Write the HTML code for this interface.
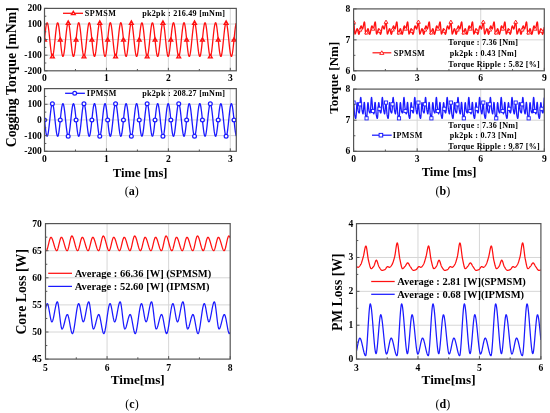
<!DOCTYPE html>
<html><head><meta charset="utf-8"><title>Figure</title>
<style>
html,body{margin:0;padding:0;background:#fff;}
body{width:550px;height:413px;overflow:hidden;}
svg{display:block;}
text{font-family:'Liberation Serif', 'Times New Roman', serif;}
</style></head>
<body>
<svg width="550" height="413" viewBox="0 0 550 413">
<rect width="550" height="413" fill="#fff"/>
<path d="M106.43 8.4V70.8M168.36 8.4V70.8M230.29 8.4V70.8M44.5 24H236.3M44.5 39.6H236.3M44.5 55.2H236.3" stroke="#d6d6d6" stroke-width="1" fill="none"/>
<path d="M106.43 88.6V151.3M168.36 88.6V151.3M230.29 88.6V151.3M44.5 104.28H236.3M44.5 119.95H236.3M44.5 135.62H236.3" stroke="#d6d6d6" stroke-width="1" fill="none"/>
<clipPath id="c1"><rect x="44.5" y="8.4" width="191.8" height="62.4"/></clipPath>
<g clip-path="url(#c1)">
<polyline points="44.50,39.60 44.75,37.09 45.00,34.65 45.25,32.31 45.50,30.13 45.75,28.16 46.00,26.45 46.25,25.03 46.50,23.93 46.75,23.19 47.00,22.80 47.25,22.79 47.50,23.16 47.75,23.89 48.00,24.97 48.25,26.37 48.50,28.07 48.75,30.02 49.00,32.19 49.25,34.52 49.50,36.97 49.75,39.47 50.00,41.98 50.25,44.43 50.50,46.78 50.75,48.96 51.00,50.94 51.25,52.67 51.50,54.10 51.75,55.22 52.00,55.98 52.25,56.39 52.50,56.41 52.75,56.07 53.00,55.36 53.25,54.30 53.50,52.91 53.75,51.22 54.00,49.28 54.25,47.12 54.50,44.80 54.75,42.36 55.00,39.86 55.25,37.35 55.50,34.89 55.75,32.54 56.00,30.34 56.25,28.35 56.50,26.61 56.75,25.16 57.00,24.03 57.25,23.25 57.50,22.83 57.75,22.78 58.00,23.10 58.25,23.80 58.50,24.84 58.75,26.21 59.00,27.88 59.25,29.81 59.50,31.96 59.75,34.28 60.00,36.72 60.25,39.22 60.50,41.72 60.75,44.19 61.00,46.54 61.25,48.75 61.50,50.75 61.75,52.51 62.00,53.97 62.25,55.12 62.50,55.92 62.75,56.36 63.00,56.43 63.25,56.12 63.50,55.45 63.76,54.42 64.01,53.06 64.26,51.41 64.51,49.49 64.76,47.35 65.01,45.04 65.26,42.61 65.51,40.11 65.76,37.60 66.01,35.14 66.26,32.77 66.51,30.56 66.76,28.54 67.01,26.78 67.26,25.30 67.51,24.13 67.76,23.31 68.01,22.85 68.26,22.77 68.51,23.05 68.76,23.71 69.01,24.72 69.26,26.06 69.51,27.70 69.76,29.61 70.01,31.73 70.26,34.04 70.51,36.46 70.76,38.96 71.01,41.47 71.26,43.94 71.51,46.31 71.76,48.53 72.01,50.56 72.26,52.34 72.51,53.84 72.76,55.02 73.01,55.86 73.26,56.33 73.51,56.44 73.76,56.17 74.01,55.53 74.26,54.54 74.51,53.22 74.76,51.59 75.01,49.70 75.26,47.58 75.51,45.28 75.76,42.86 76.01,40.37 76.26,37.86 76.51,35.39 76.76,33.01 77.01,30.78 77.26,28.74 77.51,26.95 77.76,25.43 78.01,24.23 78.26,23.38 78.51,22.88 78.76,22.76 79.01,23.01 79.26,23.63 79.51,24.60 79.76,25.91 80.01,27.52 80.26,29.40 80.51,31.51 80.76,33.79 81.01,36.21 81.26,38.70 81.51,41.21 81.76,43.69 82.01,46.07 82.26,48.31 82.51,50.36 82.76,52.17 83.01,53.70 83.26,54.91 83.51,55.79 83.76,56.30 84.01,56.45 84.26,56.21 84.51,55.61 84.76,54.66 85.01,53.37 85.26,51.77 85.51,49.90 85.76,47.80 86.01,45.53 86.26,43.11 86.51,40.63 86.76,38.11 87.01,35.64 87.26,33.24 87.51,31.00 87.76,28.94 88.01,27.12 88.26,25.57 88.51,24.34 88.76,23.45 89.01,22.92 89.26,22.75 89.51,22.96 89.76,23.55 90.01,24.49 90.26,25.76 90.51,27.34 90.76,29.20 91.01,31.28 91.26,33.55 91.51,35.96 91.76,38.45 92.01,40.96 92.26,43.44 92.51,45.84 92.76,48.09 93.01,50.16 93.26,52.00 93.51,53.56 93.76,54.80 94.01,55.71 94.26,56.27 94.51,56.45 94.76,56.25 95.01,55.69 95.26,54.77 95.51,53.51 95.76,51.95 96.01,50.10 96.26,48.03 96.51,45.76 96.76,43.37 97.01,40.88 97.26,38.37 97.51,35.88 97.76,33.48 98.01,31.22 98.26,29.14 98.51,27.29 98.76,25.72 99.01,24.45 99.26,23.52 99.51,22.95 99.76,22.75 100.01,22.93 100.26,23.47 100.51,24.37 100.76,25.62 101.01,27.17 101.26,29.00 101.51,31.06 101.76,33.32 102.01,35.71 102.27,38.19 102.52,40.70 102.77,43.19 103.02,45.60 103.27,47.87 103.52,49.96 103.77,51.82 104.02,53.41 104.27,54.69 104.52,55.64 104.77,56.23 105.02,56.45 105.27,56.29 105.52,55.77 105.77,54.88 106.02,53.66 106.27,52.12 106.52,50.30 106.77,48.25 107.02,46.00 107.27,43.61 107.52,41.14 107.77,38.63 108.02,36.14 108.27,33.72 108.52,31.44 108.77,29.34 109.02,27.47 109.27,25.86 109.52,24.57 109.77,23.60 110.02,22.99 110.27,22.76 110.52,22.89 110.77,23.40 111.02,24.27 111.27,25.47 111.52,27.00 111.77,28.80 112.02,30.84 112.27,33.08 112.52,35.46 112.77,37.94 113.02,40.45 113.27,42.94 113.52,45.36 113.77,47.65 114.02,49.76 114.27,51.64 114.52,53.26 114.77,54.58 115.02,55.56 115.27,56.18 115.52,56.44 115.77,56.32 116.02,55.84 116.27,54.99 116.52,53.80 116.77,52.29 117.02,50.50 117.27,48.47 117.52,46.24 117.77,43.86 118.02,41.39 118.27,38.88 118.52,36.39 118.77,33.96 119.02,31.67 119.27,29.54 119.52,27.65 119.77,26.01 120.02,24.68 120.27,23.68 120.52,23.04 120.77,22.76 121.02,22.86 121.27,23.33 121.52,24.16 121.77,25.34 122.02,26.83 122.27,28.60 122.52,30.62 122.77,32.84 123.02,35.21 123.27,37.68 123.52,40.19 123.77,42.69 124.02,45.12 124.27,47.42 124.52,49.55 124.77,51.46 125.02,53.11 125.27,54.46 125.52,55.47 125.77,56.14 126.02,56.43 126.27,56.35 126.52,55.90 126.77,55.09 127.02,53.93 127.27,52.46 127.52,50.69 127.77,48.69 128.02,46.47 128.27,44.11 128.52,41.65 128.77,39.14 129.02,36.64 129.27,34.21 129.52,31.89 129.77,29.75 130.02,27.83 130.27,26.17 130.52,24.80 130.77,23.77 131.02,23.09 131.27,22.77 131.52,22.83 131.77,23.27 132.02,24.06 132.27,25.20 132.52,26.66 132.77,28.41 133.02,30.41 133.27,32.61 133.52,34.97 133.77,37.43 134.02,39.93 134.27,42.43 134.52,44.87 134.77,47.19 135.02,49.34 135.27,51.28 135.52,52.96 135.77,54.33 136.02,55.39 136.27,56.09 136.52,56.42 136.77,56.38 137.02,55.97 137.27,55.19 137.52,54.07 137.77,52.62 138.02,50.89 138.27,48.90 138.52,46.71 138.77,44.36 139.02,41.90 139.27,39.39 139.52,36.89 139.77,34.45 140.02,32.12 140.27,29.96 140.53,28.01 140.78,26.32 141.03,24.93 141.28,23.86 141.53,23.14 141.78,22.79 142.03,22.81 142.28,23.20 142.53,23.96 142.78,25.07 143.03,26.50 143.28,28.22 143.53,30.19 143.78,32.38 144.03,34.72 144.28,37.17 144.53,39.68 144.78,42.18 145.03,44.63 145.28,46.96 145.53,49.13 145.78,51.09 146.03,52.80 146.28,54.21 146.53,55.29 146.78,56.03 147.03,56.40 147.28,56.40 147.53,56.02 147.78,55.28 148.03,54.19 148.28,52.78 148.53,51.07 148.78,49.11 149.03,46.94 149.28,44.60 149.53,42.16 149.78,39.65 150.03,37.15 150.28,34.69 150.53,32.35 150.78,30.17 151.03,28.20 151.28,26.48 151.53,25.06 151.78,23.95 152.03,23.20 152.28,22.81 152.53,22.79 152.78,23.15 153.03,23.87 153.28,24.94 153.53,26.34 153.78,28.03 154.03,29.98 154.28,32.15 154.53,34.47 154.78,36.92 155.03,39.42 155.28,41.93 155.53,44.38 155.78,46.73 156.03,48.92 156.28,50.90 156.53,52.64 156.78,54.08 157.03,55.20 157.28,55.97 157.53,56.38 157.78,56.42 158.03,56.08 158.28,55.38 158.53,54.32 158.78,52.94 159.03,51.26 159.28,49.32 159.53,47.17 159.78,44.85 160.03,42.41 160.28,39.91 160.53,37.40 160.78,34.94 161.03,32.59 161.28,30.39 161.53,28.39 161.78,26.65 162.03,25.19 162.28,24.05 162.53,23.26 162.78,22.83 163.03,22.78 163.28,23.09 163.53,23.78 163.78,24.82 164.03,26.18 164.28,27.85 164.53,29.77 164.78,31.92 165.03,34.23 165.28,36.66 165.53,39.16 165.78,41.67 166.03,44.14 166.28,46.50 166.53,48.71 166.78,50.71 167.03,52.47 167.28,53.95 167.53,55.10 167.78,55.91 168.03,56.36 168.28,56.43 168.53,56.13 168.78,55.46 169.03,54.44 169.28,53.09 169.53,51.44 169.78,49.53 170.03,47.40 170.28,45.09 170.53,42.66 170.78,40.16 171.03,37.65 171.28,35.19 171.53,32.82 171.78,30.60 172.03,28.58 172.28,26.81 172.53,25.32 172.78,24.15 173.03,23.32 173.28,22.86 173.53,22.76 173.78,23.04 174.03,23.69 174.28,24.70 174.53,26.03 174.78,27.66 175.03,29.56 175.28,31.69 175.53,33.99 175.78,36.41 176.03,38.91 176.28,41.42 176.53,43.89 176.78,46.26 177.03,48.49 177.28,50.52 177.53,52.31 177.78,53.81 178.03,55.00 178.28,55.84 178.53,56.33 178.79,56.44 179.04,56.18 179.29,55.55 179.54,54.56 179.79,53.25 180.04,51.63 180.29,49.74 180.54,47.62 180.79,45.33 181.04,42.91 181.29,40.42 181.54,37.91 181.79,35.44 182.04,33.05 182.29,30.82 182.54,28.78 182.79,26.98 183.04,25.46 183.29,24.26 183.54,23.39 183.79,22.89 184.04,22.76 184.29,23.00 184.54,23.61 184.79,24.58 185.04,25.88 185.29,27.48 185.54,29.36 185.79,31.46 186.04,33.75 186.29,36.16 186.54,38.65 186.79,41.16 187.04,43.64 187.29,46.03 187.54,48.27 187.79,50.32 188.04,52.14 188.29,53.67 188.54,54.89 188.79,55.77 189.04,56.30 189.29,56.45 189.54,56.22 189.79,55.63 190.04,54.68 190.29,53.40 190.54,51.80 190.79,49.94 191.04,47.85 191.29,45.57 191.54,43.16 191.79,40.68 192.04,38.16 192.29,35.68 192.54,33.29 192.79,31.04 193.04,28.98 193.29,27.15 193.54,25.60 193.79,24.36 194.04,23.46 194.29,22.92 194.54,22.75 194.79,22.96 195.04,23.53 195.29,24.46 195.54,25.73 195.79,27.31 196.04,29.16 196.29,31.24 196.54,33.51 196.79,35.91 197.04,38.40 197.29,40.91 197.54,43.39 197.79,45.79 198.04,48.05 198.29,50.12 198.54,51.96 198.79,53.53 199.04,54.78 199.29,55.70 199.54,56.26 199.79,56.45 200.04,56.26 200.29,55.71 200.54,54.79 200.79,53.54 201.04,51.98 201.29,50.14 201.54,48.07 201.79,45.81 202.04,43.41 202.29,40.93 202.54,38.42 202.79,35.93 203.04,33.53 203.29,31.26 203.54,29.18 203.79,27.32 204.04,25.75 204.29,24.47 204.54,23.54 204.79,22.96 205.04,22.75 205.29,22.92 205.54,23.46 205.79,24.35 206.04,25.59 206.29,27.13 206.54,28.96 206.79,31.02 207.04,33.27 207.29,35.66 207.54,38.14 207.79,40.65 208.04,43.14 208.29,45.55 208.54,47.83 208.79,49.92 209.04,51.79 209.29,53.38 209.54,54.67 209.79,55.62 210.04,56.22 210.29,56.45 210.54,56.30 210.79,55.78 211.04,54.90 211.29,53.68 211.54,52.15 211.79,50.34 212.04,48.29 212.29,46.05 212.54,43.66 212.79,41.19 213.04,38.68 213.29,36.19 213.54,33.77 213.79,31.48 214.04,29.38 214.29,27.50 214.54,25.89 214.79,24.59 215.04,23.62 215.29,23.00 215.54,22.76 215.79,22.88 216.04,23.38 216.29,24.24 216.54,25.45 216.79,26.96 217.04,28.76 217.30,30.80 217.55,33.03 217.80,35.41 218.05,37.88 218.30,40.40 218.55,42.89 218.80,45.31 219.05,47.60 219.30,49.72 219.55,51.61 219.80,53.23 220.05,54.55 220.30,55.54 220.55,56.17 220.80,56.44 221.05,56.33 221.30,55.85 221.55,55.01 221.80,53.82 222.05,52.32 222.30,50.54 222.55,48.51 222.80,46.29 223.05,43.91 223.30,41.44 223.55,38.93 223.80,36.44 224.05,34.01 224.30,31.71 224.55,29.59 224.80,27.68 225.05,26.04 225.30,24.71 225.55,23.70 225.80,23.05 226.05,22.76 226.30,22.85 226.55,23.32 226.80,24.14 227.05,25.31 227.30,26.79 227.55,28.56 227.80,30.58 228.05,32.80 228.30,35.16 228.55,37.63 228.80,40.14 229.05,42.64 229.30,45.07 229.55,47.38 229.80,49.51 230.05,51.43 230.30,53.08 230.55,54.43 230.80,55.46 231.05,56.13 231.30,56.43 231.55,56.36 231.80,55.92 232.05,55.11 232.30,53.96 232.55,52.49 232.80,50.73 233.05,48.73 233.30,46.52 233.55,44.16 233.80,41.70 234.05,39.19 234.30,36.69 234.55,34.25 234.80,31.94 235.05,29.79 235.30,27.86 235.55,26.20 235.80,24.83 236.05,23.79 236.30,23.10" fill="none" stroke="#ff1010" stroke-width="1.3" stroke-linejoin="round"/>
<path d="M44.5 37.79L46.4 41.04L42.6 41.04Z" fill="#fff" stroke="#ff1010" stroke-width="1.35" stroke-linejoin="miter"/>
<path d="M52.4 54.64L54.3 57.89L50.5 57.89Z" fill="#fff" stroke="#ff1010" stroke-width="1.35" stroke-linejoin="miter"/>
<path d="M60.29 37.79L62.19 41.04L58.39 41.04Z" fill="#fff" stroke="#ff1010" stroke-width="1.35" stroke-linejoin="miter"/>
<path d="M68.19 20.95L70.09 24.2L66.29 24.2Z" fill="#fff" stroke="#ff1010" stroke-width="1.35" stroke-linejoin="miter"/>
<path d="M76.08 37.8L77.98 41.04L74.18 41.04Z" fill="#fff" stroke="#ff1010" stroke-width="1.35" stroke-linejoin="miter"/>
<path d="M83.98 54.64L85.88 57.89L82.08 57.89Z" fill="#fff" stroke="#ff1010" stroke-width="1.35" stroke-linejoin="miter"/>
<path d="M91.88 37.79L93.78 41.04L89.98 41.04Z" fill="#fff" stroke="#ff1010" stroke-width="1.35" stroke-linejoin="miter"/>
<path d="M99.77 20.95L101.67 24.2L97.87 24.2Z" fill="#fff" stroke="#ff1010" stroke-width="1.35" stroke-linejoin="miter"/>
<path d="M107.67 37.8L109.57 41.04L105.77 41.04Z" fill="#fff" stroke="#ff1010" stroke-width="1.35" stroke-linejoin="miter"/>
<path d="M115.57 54.64L117.47 57.89L113.67 57.89Z" fill="#fff" stroke="#ff1010" stroke-width="1.35" stroke-linejoin="miter"/>
<path d="M123.46 37.8L125.36 41.04L121.56 41.04Z" fill="#fff" stroke="#ff1010" stroke-width="1.35" stroke-linejoin="miter"/>
<path d="M131.36 20.95L133.26 24.2L129.46 24.2Z" fill="#fff" stroke="#ff1010" stroke-width="1.35" stroke-linejoin="miter"/>
<path d="M139.25 37.8L141.15 41.04L137.35 41.04Z" fill="#fff" stroke="#ff1010" stroke-width="1.35" stroke-linejoin="miter"/>
<path d="M147.15 54.64L149.05 57.89L145.25 57.89Z" fill="#fff" stroke="#ff1010" stroke-width="1.35" stroke-linejoin="miter"/>
<path d="M155.05 37.8L156.95 41.04L153.15 41.04Z" fill="#fff" stroke="#ff1010" stroke-width="1.35" stroke-linejoin="miter"/>
<path d="M162.94 20.95L164.84 24.2L161.04 24.2Z" fill="#fff" stroke="#ff1010" stroke-width="1.35" stroke-linejoin="miter"/>
<path d="M170.84 37.8L172.74 41.04L168.94 41.04Z" fill="#fff" stroke="#ff1010" stroke-width="1.35" stroke-linejoin="miter"/>
<path d="M178.74 54.64L180.64 57.89L176.84 57.89Z" fill="#fff" stroke="#ff1010" stroke-width="1.35" stroke-linejoin="miter"/>
<path d="M186.63 37.8L188.53 41.04L184.73 41.04Z" fill="#fff" stroke="#ff1010" stroke-width="1.35" stroke-linejoin="miter"/>
<path d="M194.53 20.95L196.43 24.2L192.63 24.2Z" fill="#fff" stroke="#ff1010" stroke-width="1.35" stroke-linejoin="miter"/>
<path d="M202.42 37.79L204.32 41.04L200.52 41.04Z" fill="#fff" stroke="#ff1010" stroke-width="1.35" stroke-linejoin="miter"/>
<path d="M210.32 54.64L212.22 57.89L208.42 57.89Z" fill="#fff" stroke="#ff1010" stroke-width="1.35" stroke-linejoin="miter"/>
<path d="M218.22 37.79L220.12 41.04L216.32 41.04Z" fill="#fff" stroke="#ff1010" stroke-width="1.35" stroke-linejoin="miter"/>
<path d="M226.11 20.95L228.01 24.2L224.21 24.2Z" fill="#fff" stroke="#ff1010" stroke-width="1.35" stroke-linejoin="miter"/>
<path d="M234.01 37.8L235.91 41.04L232.11 41.04Z" fill="#fff" stroke="#ff1010" stroke-width="1.35" stroke-linejoin="miter"/>
</g>
<clipPath id="c2"><rect x="44.5" y="88.6" width="191.8" height="62.7"/></clipPath>
<g clip-path="url(#c2)">
<polyline points="44.50,119.95 44.75,122.37 45.00,124.74 45.25,127.01 45.50,129.11 45.75,131.02 46.00,132.67 46.25,134.05 46.50,135.11 46.75,135.83 47.00,136.20 47.25,136.21 47.50,135.86 47.75,135.15 48.00,134.11 48.25,132.75 48.50,131.11 48.75,129.22 49.00,127.12 49.25,124.86 49.50,122.50 49.75,120.07 50.00,117.65 50.25,115.27 50.50,113.00 50.75,110.89 51.00,108.97 51.25,107.30 51.50,105.92 51.75,104.84 52.00,104.10 52.25,103.71 52.50,103.68 52.75,104.01 53.00,104.70 53.25,105.73 53.50,107.07 53.75,108.70 54.00,110.58 54.25,112.67 54.50,114.92 54.75,117.28 55.00,119.70 55.25,122.13 55.50,124.51 55.75,126.78 56.00,128.91 56.25,130.83 56.50,132.52 56.75,133.92 57.00,135.01 57.25,135.77 57.50,136.18 57.75,136.23 58.00,135.91 58.25,135.24 58.50,134.23 58.75,132.90 59.00,131.29 59.25,129.42 59.50,127.34 59.75,125.10 60.00,122.74 60.25,120.32 60.50,117.89 60.75,115.51 61.00,113.23 61.25,111.10 61.50,109.16 61.75,107.46 62.00,106.04 62.25,104.93 62.50,104.16 62.75,103.73 63.00,103.67 63.25,103.96 63.50,104.62 63.76,105.61 64.01,106.92 64.26,108.52 64.51,110.38 64.76,112.45 65.01,114.68 65.26,117.04 65.51,119.45 65.76,121.88 66.01,124.27 66.26,126.56 66.51,128.70 66.76,130.65 67.01,132.36 67.26,133.79 67.51,134.92 67.76,135.71 68.01,136.16 68.26,136.24 68.51,135.96 68.76,135.33 69.01,134.35 69.26,133.05 69.51,131.46 69.76,129.62 70.01,127.56 70.26,125.33 70.51,122.99 70.76,120.57 71.01,118.14 71.26,115.75 71.51,113.46 71.76,111.31 72.01,109.35 72.26,107.62 72.51,106.17 72.76,105.03 73.01,104.22 73.26,103.76 73.51,103.66 73.76,103.92 74.01,104.53 74.26,105.49 74.51,106.77 74.76,108.35 75.01,110.18 75.26,112.23 75.51,114.45 75.76,116.79 76.01,119.21 76.26,121.64 76.51,124.03 76.76,126.33 77.01,128.49 77.26,130.46 77.51,132.19 77.76,133.66 78.01,134.82 78.26,135.65 78.51,136.13 78.76,136.25 79.01,136.00 79.26,135.41 79.51,134.46 79.76,133.20 80.01,131.64 80.26,129.82 80.51,127.78 80.76,125.57 81.01,123.23 81.26,120.82 81.51,118.39 81.76,115.99 82.01,113.69 82.26,111.52 82.51,109.54 82.76,107.79 83.01,106.31 83.26,105.13 83.51,104.29 83.76,103.79 84.01,103.65 84.26,103.87 84.51,104.46 84.76,105.38 85.01,106.63 85.26,108.18 85.51,109.98 85.76,112.01 86.01,114.22 86.26,116.55 86.51,118.96 86.76,121.39 87.01,123.79 87.26,126.10 87.51,128.28 87.76,130.27 88.01,132.03 88.26,133.52 88.51,134.71 88.76,135.58 89.01,136.09 89.26,136.25 89.51,136.05 89.76,135.48 90.01,134.57 90.26,133.34 90.51,131.81 90.76,130.02 91.01,128.00 91.26,125.80 91.51,123.47 91.76,121.07 92.01,118.64 92.26,116.23 92.51,113.92 92.76,111.73 93.01,109.73 93.26,107.95 93.51,106.45 93.76,105.24 94.01,104.36 94.26,103.82 94.51,103.65 94.76,103.83 95.01,104.38 95.26,105.27 95.51,106.49 95.76,108.01 96.01,109.79 96.26,111.80 96.51,113.98 96.76,116.31 97.01,118.71 97.26,121.14 97.51,123.54 97.76,125.87 98.01,128.06 98.26,130.07 98.51,131.86 98.76,133.38 99.01,134.61 99.26,135.51 99.51,136.06 99.76,136.25 100.01,136.08 100.26,135.56 100.51,134.68 100.76,133.48 101.01,131.98 101.26,130.21 101.51,128.21 101.76,126.03 102.01,123.71 102.27,121.31 102.52,118.88 102.77,116.48 103.02,114.15 103.27,111.95 103.52,109.92 103.77,108.12 104.02,106.59 104.27,105.35 104.52,104.43 104.77,103.86 105.02,103.65 105.27,103.80 105.52,104.31 105.77,105.16 106.02,106.35 106.27,107.84 106.52,109.59 106.77,111.58 107.02,113.75 107.27,116.07 107.52,118.46 107.77,120.89 108.02,123.30 108.27,125.64 108.52,127.85 108.77,129.88 109.02,131.69 109.27,133.24 109.52,134.50 109.77,135.43 110.02,136.02 110.27,136.25 110.52,136.12 110.77,135.63 111.02,134.79 111.27,133.62 111.52,132.15 111.77,130.40 112.02,128.42 112.27,126.26 112.52,123.95 112.77,121.56 113.02,119.13 113.27,116.72 113.52,114.38 113.77,112.16 114.02,110.12 114.27,108.30 114.52,106.73 114.77,105.46 115.02,104.51 115.27,103.90 115.52,103.65 115.77,103.77 116.02,104.24 116.27,105.06 116.52,106.21 116.77,107.67 117.02,109.40 117.27,111.37 117.52,113.53 117.77,115.82 118.02,118.22 118.27,120.65 118.52,123.06 118.77,125.40 119.02,127.63 119.27,129.68 119.52,131.52 119.77,133.10 120.02,134.38 120.27,135.35 120.52,135.97 120.77,136.24 121.02,136.15 121.27,135.69 121.52,134.89 121.77,133.75 122.02,132.31 122.27,130.59 122.52,128.64 122.77,126.49 123.02,124.20 123.27,121.81 123.52,119.38 123.77,116.96 124.02,114.61 124.27,112.38 124.52,110.32 124.77,108.47 125.02,106.88 125.27,105.57 125.52,104.59 125.77,103.95 126.02,103.66 126.27,103.74 126.52,104.18 126.77,104.96 127.02,106.08 127.27,107.51 127.52,109.22 127.77,111.16 128.02,113.30 128.27,115.59 128.52,117.97 128.77,120.40 129.02,122.81 129.27,125.17 129.52,127.41 129.77,129.48 130.02,131.34 130.27,132.95 130.52,134.27 130.77,135.27 131.02,135.93 131.27,136.23 131.52,136.17 131.77,135.76 132.02,134.99 132.27,133.88 132.52,132.47 132.77,130.78 133.02,128.84 133.27,126.71 133.52,124.43 133.77,122.05 134.02,119.63 134.27,117.21 134.52,114.85 134.77,112.60 135.02,110.52 135.27,108.65 135.52,107.03 135.77,105.69 136.02,104.68 136.27,104.00 136.52,103.68 136.77,103.71 137.02,104.11 137.27,104.87 137.52,105.95 137.77,107.35 138.02,109.03 138.27,110.95 138.52,113.07 138.77,115.35 139.02,117.72 139.27,120.15 139.52,122.57 139.77,124.93 140.02,127.19 140.27,129.28 140.53,131.16 140.78,132.80 141.03,134.15 141.28,135.18 141.53,135.88 141.78,136.22 142.03,136.20 142.28,135.81 142.53,135.08 142.78,134.01 143.03,132.63 143.28,130.96 143.53,129.05 143.78,126.94 144.03,124.67 144.28,122.30 144.53,119.88 144.78,117.45 145.03,115.08 145.28,112.83 145.53,110.72 145.78,108.83 146.03,107.18 146.28,105.82 146.53,104.76 146.78,104.05 147.03,103.69 147.28,103.69 147.53,104.06 147.78,104.77 148.03,105.83 148.28,107.20 148.53,108.85 148.78,110.75 149.03,112.85 149.28,115.11 149.53,117.48 149.78,119.90 150.03,122.32 150.28,124.70 150.53,126.96 150.78,129.07 151.03,130.98 151.28,132.64 151.53,134.02 151.78,135.09 152.03,135.82 152.28,136.20 152.53,136.21 152.78,135.87 153.03,135.17 153.28,134.13 153.53,132.78 153.78,131.14 154.03,129.26 154.28,127.16 154.53,124.91 154.78,122.55 155.03,120.12 155.28,117.70 155.53,115.32 155.78,113.05 156.03,110.93 156.28,109.01 156.53,107.34 156.78,105.94 157.03,104.86 157.28,104.11 157.53,103.71 157.78,103.68 158.03,104.00 158.28,104.69 158.53,105.71 158.78,107.04 159.03,108.67 159.28,110.54 159.53,112.63 159.78,114.87 160.03,117.23 160.28,119.65 160.53,122.08 160.78,124.46 161.03,126.74 161.28,128.87 161.53,130.80 161.78,132.49 162.03,133.90 162.28,135.00 162.53,135.76 162.78,136.18 163.03,136.23 163.28,135.92 163.53,135.26 163.78,134.25 164.03,132.93 164.28,131.32 164.53,129.46 164.78,127.39 165.03,125.15 165.28,122.79 165.53,120.37 165.78,117.94 166.03,115.56 166.28,113.28 166.53,111.14 166.78,109.20 167.03,107.49 167.28,106.07 167.53,104.95 167.78,104.17 168.03,103.74 168.28,103.66 168.53,103.95 168.78,104.60 169.03,105.59 169.28,106.89 169.53,108.49 169.78,110.34 170.03,112.40 170.28,114.64 170.53,116.99 170.78,119.40 171.03,121.83 171.28,124.22 171.53,126.51 171.78,128.66 172.03,130.61 172.28,132.32 172.53,133.77 172.78,134.90 173.03,135.70 173.28,136.15 173.53,136.24 173.78,135.97 174.03,135.34 174.28,134.37 174.53,133.08 174.78,131.50 175.03,129.66 175.28,127.61 175.53,125.38 175.78,123.03 176.03,120.62 176.28,118.19 176.53,115.80 176.78,113.50 177.03,111.35 177.28,109.38 177.53,107.66 177.78,106.20 178.03,105.05 178.28,104.23 178.53,103.76 178.79,103.66 179.04,103.91 179.29,104.52 179.54,105.47 179.79,106.75 180.04,108.31 180.29,110.14 180.54,112.19 180.79,114.40 181.04,116.74 181.29,119.16 181.54,121.59 181.79,123.98 182.04,126.28 182.29,128.45 182.54,130.42 182.79,132.16 183.04,133.63 183.29,134.80 183.54,135.63 183.79,136.12 184.04,136.25 184.29,136.01 184.54,135.42 184.79,134.49 185.04,133.23 185.29,131.67 185.54,129.86 185.79,127.82 186.04,125.61 186.29,123.28 186.54,120.87 186.79,118.44 187.04,116.04 187.29,113.73 187.54,111.56 187.79,109.58 188.04,107.82 188.29,106.34 188.54,105.15 188.79,104.30 189.04,103.80 189.29,103.65 189.54,103.87 189.79,104.44 190.04,105.36 190.29,106.60 190.54,108.14 190.79,109.94 191.04,111.97 191.29,114.17 191.54,116.50 191.79,118.91 192.04,121.34 192.29,123.74 192.54,126.05 192.79,128.23 193.04,130.23 193.29,132.00 193.54,133.50 193.79,134.69 194.04,135.56 194.29,136.09 194.54,136.25 194.79,136.05 195.04,135.50 195.29,134.60 195.54,133.37 195.79,131.84 196.04,130.05 196.29,128.04 196.54,125.85 196.79,123.52 197.04,121.12 197.29,118.68 197.54,116.28 197.79,113.96 198.04,111.77 198.29,109.77 198.54,107.99 198.79,106.47 199.04,105.26 199.29,104.37 199.54,103.83 199.79,103.65 200.04,103.83 200.29,104.37 200.54,105.25 200.79,106.46 201.04,107.97 201.29,109.75 201.54,111.75 201.79,113.94 202.04,116.26 202.29,118.66 202.54,121.09 202.79,123.50 203.04,125.82 203.29,128.02 203.54,130.04 203.79,131.83 204.04,133.36 204.29,134.59 204.54,135.49 204.79,136.05 205.04,136.25 205.29,136.09 205.54,135.57 205.79,134.70 206.04,133.51 206.29,132.01 206.54,130.25 206.79,128.25 207.04,126.08 207.29,123.76 207.54,121.36 207.79,118.93 208.04,116.52 208.29,114.19 208.54,111.99 208.79,109.96 209.04,108.16 209.29,106.62 209.54,105.37 209.79,104.45 210.04,103.87 210.29,103.65 210.54,103.79 210.79,104.29 211.04,105.14 211.29,106.32 211.54,107.80 211.79,109.56 212.04,111.54 212.29,113.71 212.54,116.02 212.79,118.41 213.04,120.84 213.29,123.25 213.54,125.59 213.79,127.80 214.04,129.84 214.29,131.66 214.54,133.21 214.79,134.47 215.04,135.41 215.29,136.01 215.54,136.25 215.79,136.12 216.04,135.64 216.29,134.81 216.54,133.65 216.79,132.18 217.04,130.44 217.30,128.47 217.55,126.31 217.80,124.00 218.05,121.61 218.30,119.18 218.55,116.77 218.80,114.43 219.05,112.21 219.30,110.16 219.55,108.33 219.80,106.76 220.05,105.48 220.30,104.53 220.55,103.91 220.80,103.66 221.05,103.76 221.30,104.23 221.55,105.04 221.80,106.19 222.05,107.64 222.30,109.37 222.55,111.33 222.80,113.48 223.05,115.78 223.30,118.17 223.55,120.60 223.80,123.01 224.05,125.36 224.30,127.58 224.55,129.64 224.80,131.48 225.05,133.07 225.30,134.36 225.55,135.33 225.80,135.96 226.05,136.24 226.30,136.15 226.55,135.71 226.80,134.91 227.05,133.78 227.30,132.34 227.55,130.63 227.80,128.68 228.05,126.53 228.30,124.24 228.55,121.86 228.80,119.43 229.05,117.01 229.30,114.66 229.55,112.43 229.80,110.36 230.05,108.51 230.30,106.91 230.55,105.60 230.80,104.61 231.05,103.96 231.30,103.67 231.55,103.73 231.80,104.16 232.05,104.94 232.30,106.06 232.55,107.48 232.80,109.18 233.05,111.12 233.30,113.25 233.55,115.54 233.80,117.92 234.05,120.35 234.30,122.77 234.55,125.12 234.80,127.36 235.05,129.44 235.30,131.31 235.55,132.92 235.80,134.24 236.05,135.25 236.30,135.92" fill="none" stroke="#1a1aff" stroke-width="1.3" stroke-linejoin="round"/>
<circle cx="44.5" cy="119.95" r="1.9" fill="#fff" stroke="#1a1aff" stroke-width="1.25"/>
<circle cx="52.4" cy="103.65" r="1.9" fill="#fff" stroke="#1a1aff" stroke-width="1.25"/>
<circle cx="60.29" cy="119.95" r="1.9" fill="#fff" stroke="#1a1aff" stroke-width="1.25"/>
<circle cx="68.19" cy="136.25" r="1.9" fill="#fff" stroke="#1a1aff" stroke-width="1.25"/>
<circle cx="76.08" cy="119.95" r="1.9" fill="#fff" stroke="#1a1aff" stroke-width="1.25"/>
<circle cx="83.98" cy="103.65" r="1.9" fill="#fff" stroke="#1a1aff" stroke-width="1.25"/>
<circle cx="91.88" cy="119.95" r="1.9" fill="#fff" stroke="#1a1aff" stroke-width="1.25"/>
<circle cx="99.77" cy="136.25" r="1.9" fill="#fff" stroke="#1a1aff" stroke-width="1.25"/>
<circle cx="107.67" cy="119.95" r="1.9" fill="#fff" stroke="#1a1aff" stroke-width="1.25"/>
<circle cx="115.57" cy="103.65" r="1.9" fill="#fff" stroke="#1a1aff" stroke-width="1.25"/>
<circle cx="123.46" cy="119.95" r="1.9" fill="#fff" stroke="#1a1aff" stroke-width="1.25"/>
<circle cx="131.36" cy="136.25" r="1.9" fill="#fff" stroke="#1a1aff" stroke-width="1.25"/>
<circle cx="139.25" cy="119.95" r="1.9" fill="#fff" stroke="#1a1aff" stroke-width="1.25"/>
<circle cx="147.15" cy="103.65" r="1.9" fill="#fff" stroke="#1a1aff" stroke-width="1.25"/>
<circle cx="155.05" cy="119.95" r="1.9" fill="#fff" stroke="#1a1aff" stroke-width="1.25"/>
<circle cx="162.94" cy="136.25" r="1.9" fill="#fff" stroke="#1a1aff" stroke-width="1.25"/>
<circle cx="170.84" cy="119.95" r="1.9" fill="#fff" stroke="#1a1aff" stroke-width="1.25"/>
<circle cx="178.74" cy="103.65" r="1.9" fill="#fff" stroke="#1a1aff" stroke-width="1.25"/>
<circle cx="186.63" cy="119.95" r="1.9" fill="#fff" stroke="#1a1aff" stroke-width="1.25"/>
<circle cx="194.53" cy="136.25" r="1.9" fill="#fff" stroke="#1a1aff" stroke-width="1.25"/>
<circle cx="202.42" cy="119.95" r="1.9" fill="#fff" stroke="#1a1aff" stroke-width="1.25"/>
<circle cx="210.32" cy="103.65" r="1.9" fill="#fff" stroke="#1a1aff" stroke-width="1.25"/>
<circle cx="218.22" cy="119.95" r="1.9" fill="#fff" stroke="#1a1aff" stroke-width="1.25"/>
<circle cx="226.11" cy="136.25" r="1.9" fill="#fff" stroke="#1a1aff" stroke-width="1.25"/>
<circle cx="234.01" cy="119.95" r="1.9" fill="#fff" stroke="#1a1aff" stroke-width="1.25"/>
</g>
<path d="M44.5 70.8v-3.0M106.43 70.8v-3.0M168.36 70.8v-3.0M230.29 70.8v-3.0M75.47 70.8v-1.8M137.4 70.8v-1.8M199.33 70.8v-1.8M44.5 70.8h3.0M44.5 55.2h3.0M44.5 39.6h3.0M44.5 24h3.0M44.5 8.4h3.0M44.5 63h1.8M44.5 47.4h1.8M44.5 31.8h1.8M44.5 16.2h1.8" stroke="#555555" stroke-width="1" fill="none"/>
<rect x="44.5" y="8.4" width="191.8" height="62.4" fill="none" stroke="#555555" stroke-width="1.2"/>
<path d="M44.5 151.3v-3.0M106.43 151.3v-3.0M168.36 151.3v-3.0M230.29 151.3v-3.0M75.47 151.3v-1.8M137.4 151.3v-1.8M199.33 151.3v-1.8M44.5 151.3h3.0M44.5 135.62h3.0M44.5 119.95h3.0M44.5 104.28h3.0M44.5 88.6h3.0M44.5 143.46h1.8M44.5 127.79h1.8M44.5 112.11h1.8M44.5 96.44h1.8" stroke="#555555" stroke-width="1" fill="none"/>
<rect x="44.5" y="88.6" width="191.8" height="62.7" fill="none" stroke="#555555" stroke-width="1.2"/>
<line x1="63" y1="13.3" x2="83" y2="13.3" stroke="#ff1010" stroke-width="1.3"/>
<path d="M73.3 11.39L75.2 14.64L71.4 14.64Z" fill="#fff" stroke="#ff1010" stroke-width="1.35" stroke-linejoin="miter"/>
<text x="84.8" y="16" font-size="8.1" text-anchor="start" font-weight="bold" fill="#000" textLength="31.03">SPMSM</text>
<text x="142.3" y="16.3" font-size="8.1" text-anchor="start" font-weight="bold" fill="#000" textLength="82.61">pk2pk : 216.49 [mNm]</text>
<line x1="65.1" y1="93.3" x2="84.9" y2="93.3" stroke="#1a1aff" stroke-width="1.3"/>
<circle cx="74.7" cy="93.3" r="1.9" fill="#fff" stroke="#1a1aff" stroke-width="1.25"/>
<text x="86.8" y="96.2" font-size="8.1" text-anchor="start" font-weight="bold" fill="#000" textLength="29.61">IPMSM</text>
<text x="142.3" y="96.3" font-size="8.1" text-anchor="start" font-weight="bold" fill="#000" textLength="82.61">pk2pk : 208.27 [mNm]</text>
<text x="41.8" y="11.4" font-size="9.6" text-anchor="end" font-weight="bold" fill="#000">200</text>
<text x="41.8" y="27" font-size="9.6" text-anchor="end" font-weight="bold" fill="#000">100</text>
<text x="41.8" y="42.6" font-size="9.6" text-anchor="end" font-weight="bold" fill="#000">0</text>
<text x="41.8" y="58.2" font-size="9.6" text-anchor="end" font-weight="bold" fill="#000">-100</text>
<text x="41.8" y="73.8" font-size="9.6" text-anchor="end" font-weight="bold" fill="#000">-200</text>
<text x="44.5" y="81" font-size="9.6" text-anchor="middle" font-weight="bold" fill="#000">0</text>
<text x="106.43" y="81" font-size="9.6" text-anchor="middle" font-weight="bold" fill="#000">1</text>
<text x="168.36" y="81" font-size="9.6" text-anchor="middle" font-weight="bold" fill="#000">2</text>
<text x="230.29" y="81" font-size="9.6" text-anchor="middle" font-weight="bold" fill="#000">3</text>
<text x="41.8" y="91.6" font-size="9.6" text-anchor="end" font-weight="bold" fill="#000">200</text>
<text x="41.8" y="107.28" font-size="9.6" text-anchor="end" font-weight="bold" fill="#000">100</text>
<text x="41.8" y="122.95" font-size="9.6" text-anchor="end" font-weight="bold" fill="#000">0</text>
<text x="41.8" y="138.62" font-size="9.6" text-anchor="end" font-weight="bold" fill="#000">-100</text>
<text x="41.8" y="154.3" font-size="9.6" text-anchor="end" font-weight="bold" fill="#000">-200</text>
<text x="44.5" y="162.2" font-size="9.6" text-anchor="middle" font-weight="bold" fill="#000">0</text>
<text x="106.43" y="162.2" font-size="9.6" text-anchor="middle" font-weight="bold" fill="#000">1</text>
<text x="168.36" y="162.2" font-size="9.6" text-anchor="middle" font-weight="bold" fill="#000">2</text>
<text x="230.29" y="162.2" font-size="9.6" text-anchor="middle" font-weight="bold" fill="#000">3</text>
<text x="15.6" y="77.3" font-size="13.8" text-anchor="middle" font-weight="bold" fill="#000" transform="rotate(-90 15.6 77.3)">Cogging Torque [mNm]</text>
<text x="140.2" y="176.7" font-size="12.6" text-anchor="middle" font-weight="bold" fill="#000">Time [ms]</text>
<text x="131.8" y="194.6" font-size="12" text-anchor="middle" font-weight="normal" fill="#000">(<tspan font-weight="bold">a</tspan>)</text>
<path d="M417.17 8.9V70.8M480.73 8.9V70.8M353.6 39.85H544.3" stroke="#d6d6d6" stroke-width="1" fill="none"/>
<path d="M417.17 89.1V151.3M480.73 89.1V151.3M353.6 120.2H544.3" stroke="#d6d6d6" stroke-width="1" fill="none"/>
<clipPath id="c3"><rect x="353.6" y="8.9" width="190.7" height="61.9"/></clipPath>
<g clip-path="url(#c3)">
<polyline points="353.60,21.90 353.80,22.57 354.00,24.29 354.20,26.65 354.40,29.22 354.60,31.58 354.80,33.30 355.00,33.97 355.20,33.85 355.40,33.51 355.60,33.01 355.80,32.39 356.00,31.70 356.20,30.98 356.40,30.29 356.60,29.67 356.80,29.17 357.00,28.83 357.20,28.71 357.40,28.92 357.60,29.49 357.80,30.30 358.00,31.25 358.20,32.22 358.40,33.12 358.60,33.82 358.80,34.22 359.00,34.23 359.20,33.86 359.40,33.18 359.60,32.28 359.80,31.23 360.00,30.10 360.20,28.98 360.40,27.92 360.60,27.02 360.80,26.35 361.00,25.97 361.20,25.97 361.40,26.29 361.60,26.82 361.80,27.47 362.00,28.11 362.20,28.65 362.40,28.97 362.60,28.96 362.80,28.54 363.00,27.80 363.21,26.83 363.41,25.74 363.61,24.63 363.81,23.58 364.01,22.72 364.21,22.12 364.41,21.90 364.61,22.56 364.81,24.28 365.01,26.64 365.21,29.21 365.41,31.57 365.61,33.30 365.81,33.97 366.01,33.85 366.21,33.51 366.41,33.01 366.61,32.39 366.81,31.70 367.01,30.98 367.21,30.29 367.41,29.67 367.61,29.17 367.81,28.83 368.01,28.71 368.21,28.92 368.41,29.48 368.61,30.30 368.81,31.24 369.01,32.22 369.21,33.11 369.41,33.82 369.61,34.22 369.81,34.23 370.01,33.86 370.21,33.18 370.41,32.28 370.61,31.23 370.81,30.11 371.01,28.98 371.21,27.93 371.41,27.03 371.61,26.35 371.81,25.97 372.01,25.97 372.21,26.29 372.41,26.82 372.61,27.47 372.81,28.11 373.01,28.65 373.21,28.97 373.41,28.96 373.61,28.54 373.81,27.80 374.01,26.84 374.21,25.75 374.41,24.63 374.61,23.59 374.81,22.72 375.01,22.12 375.21,21.90 375.41,22.56 375.61,24.28 375.81,26.63 376.01,29.20 376.21,31.56 376.41,33.29 376.61,33.97 376.81,33.85 377.01,33.51 377.21,33.01 377.41,32.39 377.61,31.70 377.81,30.99 378.01,30.29 378.21,29.67 378.41,29.17 378.61,28.83 378.81,28.71 379.01,28.92 379.21,29.48 379.41,30.29 379.61,31.24 379.81,32.22 380.01,33.11 380.21,33.82 380.41,34.22 380.61,34.23 380.81,33.86 381.01,33.19 381.21,32.29 381.41,31.24 381.61,30.11 381.81,28.98 382.01,27.93 382.22,27.03 382.42,26.35 382.62,25.97 382.82,25.97 383.02,26.28 383.22,26.82 383.42,27.46 383.62,28.11 383.82,28.65 384.02,28.97 384.22,28.96 384.42,28.55 384.62,27.81 384.82,26.84 385.02,25.75 385.22,24.63 385.42,23.59 385.62,22.72 385.82,22.12 386.02,21.90 386.22,22.55 386.42,24.27 386.62,26.62 386.82,29.19 387.02,31.55 387.22,33.29 387.42,33.97 387.62,33.85 387.82,33.52 388.02,33.01 388.22,32.40 388.42,31.70 388.62,30.99 388.82,30.30 389.02,29.67 389.22,29.17 389.42,28.83 389.62,28.71 389.82,28.92 390.02,29.48 390.22,30.29 390.42,31.24 390.62,32.21 390.82,33.11 391.02,33.81 391.22,34.22 391.42,34.23 391.62,33.86 391.82,33.19 392.02,32.29 392.22,31.24 392.42,30.11 392.62,28.99 392.82,27.93 393.02,27.03 393.22,26.35 393.42,25.98 393.62,25.97 393.82,26.28 394.02,26.82 394.22,27.46 394.42,28.11 394.62,28.65 394.82,28.97 395.02,28.96 395.22,28.55 395.42,27.81 395.62,26.84 395.82,25.75 396.02,24.64 396.22,23.59 396.42,22.72 396.62,22.12 396.82,21.90 397.02,22.55 397.22,24.26 397.42,26.62 397.62,29.18 397.82,31.55 398.02,33.28 398.22,33.97 398.42,33.85 398.62,33.52 398.82,33.02 399.02,32.40 399.22,31.71 399.42,30.99 399.62,30.30 399.82,29.68 400.02,29.17 400.22,28.83 400.42,28.71 400.62,28.92 400.82,29.48 401.02,30.29 401.22,31.23 401.43,32.21 401.63,33.10 401.83,33.81 402.03,34.22 402.23,34.23 402.43,33.86 402.63,33.19 402.83,32.29 403.03,31.24 403.23,30.12 403.43,28.99 403.63,27.94 403.83,27.03 404.03,26.35 404.23,25.98 404.43,25.96 404.63,26.28 404.83,26.82 405.03,27.46 405.23,28.11 405.43,28.64 405.63,28.97 405.83,28.96 406.03,28.55 406.23,27.81 406.43,26.85 406.63,25.76 406.83,24.64 407.03,23.60 407.23,22.73 407.43,22.13 407.63,21.90 407.83,22.55 408.03,24.26 408.23,26.61 408.43,29.18 408.63,31.54 408.83,33.28 409.03,33.97 409.23,33.85 409.43,33.52 409.63,33.02 409.83,32.40 410.03,31.71 410.23,30.99 410.43,30.30 410.63,29.68 410.83,29.17 411.03,28.83 411.23,28.71 411.43,28.91 411.63,29.48 411.83,30.28 412.03,31.23 412.23,32.21 412.43,33.10 412.63,33.81 412.83,34.22 413.03,34.23 413.23,33.87 413.43,33.20 413.63,32.30 413.83,31.25 414.03,30.12 414.23,28.99 414.43,27.94 414.63,27.04 414.83,26.36 415.03,25.98 415.23,25.96 415.43,26.28 415.63,26.81 415.83,27.46 416.03,28.10 416.23,28.64 416.43,28.97 416.63,28.96 416.83,28.55 417.03,27.82 417.23,26.85 417.43,25.76 417.63,24.64 417.83,23.60 418.03,22.73 418.23,22.13 418.43,21.90 418.63,22.54 418.83,24.25 419.03,26.60 419.23,29.17 419.43,31.53 419.63,33.27 419.83,33.97 420.03,33.85 420.23,33.52 420.44,33.02 420.64,32.40 420.84,31.71 421.04,31.00 421.24,30.30 421.44,29.68 421.64,29.18 421.84,28.84 422.04,28.71 422.24,28.91 422.44,29.47 422.64,30.28 422.84,31.23 423.04,32.20 423.24,33.10 423.44,33.81 423.64,34.22 423.84,34.23 424.04,33.87 424.24,33.20 424.44,32.30 424.64,31.25 424.84,30.13 425.04,29.00 425.24,27.94 425.44,27.04 425.64,26.36 425.84,25.98 426.04,25.96 426.24,26.28 426.44,26.81 426.64,27.46 426.84,28.10 427.04,28.64 427.24,28.97 427.44,28.97 427.64,28.55 427.84,27.82 428.04,26.85 428.24,25.76 428.44,24.65 428.64,23.60 428.84,22.73 429.04,22.13 429.24,21.90 429.44,22.54 429.64,24.24 429.84,26.59 430.04,29.16 430.24,31.53 430.44,33.27 430.64,33.97 430.84,33.85 431.04,33.52 431.24,33.02 431.44,32.40 431.64,31.71 431.84,31.00 432.04,30.31 432.24,29.68 432.44,29.18 432.64,28.84 432.84,28.71 433.04,28.91 433.24,29.47 433.44,30.28 433.64,31.22 433.84,32.20 434.04,33.10 434.24,33.81 434.44,34.22 434.64,34.23 434.84,33.87 435.04,33.20 435.24,32.30 435.44,31.26 435.64,30.13 435.84,29.00 436.04,27.95 436.24,27.04 436.44,26.36 436.64,25.98 436.84,25.96 437.04,26.28 437.24,26.81 437.44,27.45 437.64,28.10 437.84,28.64 438.04,28.97 438.24,28.97 438.44,28.56 438.64,27.82 438.84,26.86 439.04,25.77 439.24,24.65 439.45,23.61 439.65,22.73 439.85,22.13 440.05,21.90 440.25,22.53 440.45,24.24 440.65,26.58 440.85,29.15 441.05,31.52 441.25,33.27 441.45,33.97 441.65,33.85 441.85,33.52 442.05,33.02 442.25,32.41 442.45,31.72 442.65,31.00 442.85,30.31 443.05,29.68 443.25,29.18 443.45,28.84 443.65,28.71 443.85,28.91 444.05,29.47 444.25,30.27 444.45,31.22 444.65,32.20 444.85,33.09 445.05,33.80 445.25,34.22 445.45,34.23 445.65,33.87 445.85,33.20 446.05,32.31 446.25,31.26 446.45,30.13 446.65,29.01 446.85,27.95 447.05,27.04 447.25,26.36 447.45,25.98 447.65,25.96 447.85,26.28 448.05,26.81 448.25,27.45 448.45,28.10 448.65,28.64 448.85,28.97 449.05,28.97 449.25,28.56 449.45,27.82 449.65,26.86 449.85,25.77 450.05,24.65 450.25,23.61 450.45,22.74 450.65,22.13 450.85,21.90 451.05,22.53 451.25,24.23 451.45,26.57 451.65,29.14 451.85,31.51 452.05,33.26 452.25,33.97 452.45,33.85 452.65,33.52 452.85,33.03 453.05,32.41 453.25,31.72 453.45,31.00 453.65,30.31 453.85,29.69 454.05,29.18 454.25,28.84 454.45,28.71 454.65,28.91 454.85,29.47 455.05,30.27 455.25,31.22 455.45,32.19 455.65,33.09 455.85,33.80 456.05,34.22 456.25,34.23 456.45,33.87 456.65,33.21 456.85,32.31 457.05,31.26 457.25,30.14 457.45,29.01 457.65,27.95 457.85,27.05 458.05,26.36 458.25,25.98 458.45,25.96 458.66,26.27 458.86,26.81 459.06,27.45 459.26,28.10 459.46,28.64 459.66,28.97 459.86,28.97 460.06,28.56 460.26,27.83 460.46,26.87 460.66,25.78 460.86,24.66 461.06,23.61 461.26,22.74 461.46,22.13 461.66,21.90 461.86,22.53 462.06,24.22 462.26,26.56 462.46,29.13 462.66,31.51 462.86,33.26 463.06,33.97 463.26,33.85 463.46,33.53 463.66,33.03 463.86,32.41 464.06,31.72 464.26,31.01 464.46,30.31 464.66,29.69 464.86,29.18 465.06,28.84 465.26,28.71 465.46,28.91 465.66,29.46 465.86,30.27 466.06,31.21 466.26,32.19 466.46,33.09 466.66,33.80 466.86,34.22 467.06,34.24 467.26,33.87 467.46,33.21 467.66,32.31 467.86,31.27 468.06,30.14 468.26,29.01 468.46,27.96 468.66,27.05 468.86,26.37 469.06,25.98 469.26,25.96 469.46,26.27 469.66,26.80 469.86,27.45 470.06,28.09 470.26,28.64 470.46,28.97 470.66,28.97 470.86,28.56 471.06,27.83 471.26,26.87 471.46,25.78 471.66,24.66 471.86,23.62 472.06,22.74 472.26,22.13 472.46,21.90 472.66,22.52 472.86,24.21 473.06,26.56 473.26,29.13 473.46,31.50 473.66,33.25 473.86,33.97 474.06,33.86 474.26,33.53 474.46,33.03 474.66,32.41 474.86,31.72 475.06,31.01 475.26,30.31 475.46,29.69 475.66,29.18 475.86,28.84 476.06,28.71 476.26,28.91 476.46,29.46 476.66,30.27 476.86,31.21 477.06,32.19 477.26,33.09 477.46,33.80 477.67,34.21 477.87,34.24 478.07,33.88 478.27,33.21 478.47,32.32 478.67,31.27 478.87,30.14 479.07,29.02 479.27,27.96 479.47,27.05 479.67,26.37 479.87,25.98 480.07,25.96 480.27,26.27 480.47,26.80 480.67,27.44 480.87,28.09 481.07,28.63 481.27,28.97 481.47,28.97 481.67,28.56 481.87,27.83 482.07,26.87 482.27,25.78 482.47,24.67 482.67,23.62 482.87,22.74 483.07,22.14 483.27,21.90 483.47,22.52 483.67,24.21 483.87,26.55 484.07,29.12 484.27,31.49 484.47,33.25 484.67,33.97 484.87,33.86 485.07,33.53 485.27,33.03 485.47,32.42 485.67,31.73 485.87,31.01 486.07,30.32 486.27,29.69 486.47,29.18 486.67,28.84 486.87,28.71 487.07,28.90 487.27,29.46 487.47,30.26 487.67,31.21 487.87,32.18 488.07,33.08 488.27,33.80 488.47,34.21 488.67,34.24 488.87,33.88 489.07,33.21 489.27,32.32 489.47,31.27 489.67,30.15 489.87,29.02 490.07,27.96 490.27,27.06 490.47,26.37 490.67,25.98 490.87,25.96 491.07,26.27 491.27,26.80 491.47,27.44 491.67,28.09 491.87,28.63 492.07,28.96 492.27,28.97 492.47,28.57 492.67,27.84 492.87,26.88 493.07,25.79 493.27,24.67 493.47,23.62 493.67,22.75 493.87,22.14 494.07,21.90 494.27,22.51 494.47,24.20 494.67,26.54 494.87,29.11 495.07,31.48 495.27,33.24 495.47,33.97 495.67,33.86 495.87,33.53 496.07,33.03 496.27,32.42 496.47,31.73 496.68,31.01 496.88,30.32 497.08,29.69 497.28,29.19 497.48,28.84 497.68,28.71 497.88,28.90 498.08,29.46 498.28,30.26 498.48,31.20 498.68,32.18 498.88,33.08 499.08,33.79 499.28,34.21 499.48,34.24 499.68,33.88 499.88,33.22 500.08,32.32 500.28,31.28 500.48,30.15 500.68,29.02 500.88,27.97 501.08,27.06 501.28,26.37 501.48,25.98 501.68,25.96 501.88,26.27 502.08,26.80 502.28,27.44 502.48,28.09 502.68,28.63 502.88,28.96 503.08,28.97 503.28,28.57 503.48,27.84 503.68,26.88 503.88,25.79 504.08,24.67 504.28,23.63 504.48,22.75 504.68,22.14 504.88,21.90 505.08,22.51 505.28,24.19 505.48,26.53 505.68,29.10 505.88,31.48 506.08,33.24 506.28,33.97 506.48,33.86 506.68,33.53 506.88,33.04 507.08,32.42 507.28,31.73 507.48,31.01 507.68,30.32 507.88,29.70 508.08,29.19 508.28,28.84 508.48,28.71 508.68,28.90 508.88,29.45 509.08,30.26 509.28,31.20 509.48,32.18 509.68,33.08 509.88,33.79 510.08,34.21 510.28,34.24 510.48,33.88 510.68,33.22 510.88,32.33 511.08,31.28 511.28,30.16 511.48,29.03 511.68,27.97 511.88,27.06 512.08,26.37 512.28,25.98 512.48,25.96 512.68,26.27 512.88,26.80 513.08,27.44 513.28,28.09 513.48,28.63 513.68,28.96 513.88,28.97 514.08,28.57 514.28,27.84 514.48,26.88 514.68,25.79 514.88,24.68 515.08,23.63 515.28,22.75 515.48,22.14 515.68,21.90 515.89,22.51 516.09,24.19 516.29,26.52 516.49,29.09 516.69,31.47 516.89,33.24 517.09,33.97 517.29,33.86 517.49,33.53 517.69,33.04 517.89,32.42 518.09,31.73 518.29,31.02 518.49,30.32 518.69,29.70 518.89,29.19 519.09,28.84 519.29,28.71 519.49,28.90 519.69,29.45 519.89,30.25 520.09,31.20 520.29,32.17 520.49,33.07 520.69,33.79 520.89,34.21 521.09,34.24 521.29,33.88 521.49,33.22 521.69,32.33 521.89,31.28 522.09,30.16 522.29,29.03 522.49,27.97 522.69,27.06 522.89,26.37 523.09,25.98 523.29,25.96 523.49,26.26 523.69,26.79 523.89,27.44 524.09,28.08 524.29,28.63 524.49,28.96 524.69,28.97 524.89,28.57 525.09,27.84 525.29,26.89 525.49,25.80 525.69,24.68 525.89,23.63 526.09,22.75 526.29,22.14 526.49,21.90 526.69,22.50 526.89,24.18 527.09,26.51 527.29,29.08 527.49,31.46 527.69,33.23 527.89,33.97 528.09,33.86 528.29,33.53 528.49,33.04 528.69,32.42 528.89,31.73 529.09,31.02 529.29,30.33 529.49,29.70 529.69,29.19 529.89,28.84 530.09,28.71 530.29,28.90 530.49,29.45 530.69,30.25 530.89,31.19 531.09,32.17 531.29,33.07 531.49,33.79 531.69,34.21 531.89,34.24 532.09,33.88 532.29,33.22 532.49,32.33 532.69,31.29 532.89,30.16 533.09,29.03 533.29,27.98 533.49,27.07 533.69,26.38 533.89,25.98 534.09,25.96 534.29,26.26 534.49,26.79 534.69,27.43 534.90,28.08 535.10,28.63 535.30,28.96 535.50,28.97 535.70,28.57 535.90,27.85 536.10,26.89 536.30,25.80 536.50,24.68 536.70,23.64 536.90,22.76 537.10,22.14 537.30,21.90 537.50,22.50 537.70,24.17 537.90,26.51 538.10,29.07 538.30,31.46 538.50,33.23 538.70,33.97 538.90,33.86 539.10,33.54 539.30,33.04 539.50,32.43 539.70,31.74 539.90,31.02 540.10,30.33 540.30,29.70 540.50,29.19 540.70,28.84 540.90,28.71 541.10,28.90 541.30,29.45 541.50,30.25 541.70,31.19 541.90,32.17 542.10,33.07 542.30,33.79 542.50,34.21 542.70,34.24 542.90,33.89 543.10,33.23 543.30,32.34 543.50,31.29 543.70,30.17 543.90,29.04 544.10,27.98 544.30,27.07" fill="none" stroke="#ff1010" stroke-width="1.35" stroke-linejoin="round"/>
<path d="M353.6 20.09L355.5 23.34L351.7 23.34Z" fill="#fff" stroke="#ff1010" stroke-width="0.9" stroke-linejoin="miter"/>
<path d="M360.08 27.84L361.98 31.09L358.18 31.09Z" fill="#fff" stroke="#ff1010" stroke-width="0.9" stroke-linejoin="miter"/>
<path d="M366.57 30.71L368.47 33.96L364.67 33.96Z" fill="#fff" stroke="#ff1010" stroke-width="0.9" stroke-linejoin="miter"/>
<path d="M373.05 26.93L374.95 30.18L371.15 30.18Z" fill="#fff" stroke="#ff1010" stroke-width="0.9" stroke-linejoin="miter"/>
<path d="M379.54 29.05L381.44 32.3L377.64 32.3Z" fill="#fff" stroke="#ff1010" stroke-width="0.9" stroke-linejoin="miter"/>
<path d="M386.02 20.09L387.92 23.34L384.12 23.34Z" fill="#fff" stroke="#ff1010" stroke-width="0.9" stroke-linejoin="miter"/>
<path d="M392.5 27.84L394.4 31.09L390.6 31.09Z" fill="#fff" stroke="#ff1010" stroke-width="0.9" stroke-linejoin="miter"/>
<path d="M398.99 30.71L400.89 33.96L397.09 33.96Z" fill="#fff" stroke="#ff1010" stroke-width="0.9" stroke-linejoin="miter"/>
<path d="M405.47 26.93L407.37 30.18L403.57 30.18Z" fill="#fff" stroke="#ff1010" stroke-width="0.9" stroke-linejoin="miter"/>
<path d="M411.95 29.05L413.85 32.3L410.05 32.3Z" fill="#fff" stroke="#ff1010" stroke-width="0.9" stroke-linejoin="miter"/>
<path d="M418.44 20.09L420.34 23.34L416.54 23.34Z" fill="#fff" stroke="#ff1010" stroke-width="0.9" stroke-linejoin="miter"/>
<path d="M424.92 27.84L426.82 31.09L423.02 31.09Z" fill="#fff" stroke="#ff1010" stroke-width="0.9" stroke-linejoin="miter"/>
<path d="M431.41 30.71L433.31 33.96L429.51 33.96Z" fill="#fff" stroke="#ff1010" stroke-width="0.9" stroke-linejoin="miter"/>
<path d="M437.89 26.93L439.79 30.18L435.99 30.18Z" fill="#fff" stroke="#ff1010" stroke-width="0.9" stroke-linejoin="miter"/>
<path d="M444.37 29.05L446.27 32.3L442.47 32.3Z" fill="#fff" stroke="#ff1010" stroke-width="0.9" stroke-linejoin="miter"/>
<path d="M450.86 20.09L452.76 23.34L448.96 23.34Z" fill="#fff" stroke="#ff1010" stroke-width="0.9" stroke-linejoin="miter"/>
<path d="M457.34 27.84L459.24 31.09L455.44 31.09Z" fill="#fff" stroke="#ff1010" stroke-width="0.9" stroke-linejoin="miter"/>
<path d="M463.82 30.71L465.72 33.96L461.92 33.96Z" fill="#fff" stroke="#ff1010" stroke-width="0.9" stroke-linejoin="miter"/>
<path d="M470.31 26.93L472.21 30.18L468.41 30.18Z" fill="#fff" stroke="#ff1010" stroke-width="0.9" stroke-linejoin="miter"/>
<path d="M476.79 29.05L478.69 32.3L474.89 32.3Z" fill="#fff" stroke="#ff1010" stroke-width="0.9" stroke-linejoin="miter"/>
<path d="M483.28 20.09L485.18 23.34L481.38 23.34Z" fill="#fff" stroke="#ff1010" stroke-width="0.9" stroke-linejoin="miter"/>
<path d="M489.76 27.84L491.66 31.09L487.86 31.09Z" fill="#fff" stroke="#ff1010" stroke-width="0.9" stroke-linejoin="miter"/>
<path d="M496.24 30.71L498.14 33.96L494.34 33.96Z" fill="#fff" stroke="#ff1010" stroke-width="0.9" stroke-linejoin="miter"/>
<path d="M502.73 26.93L504.63 30.18L500.83 30.18Z" fill="#fff" stroke="#ff1010" stroke-width="0.9" stroke-linejoin="miter"/>
<path d="M509.21 29.05L511.11 32.3L507.31 32.3Z" fill="#fff" stroke="#ff1010" stroke-width="0.9" stroke-linejoin="miter"/>
<path d="M515.69 20.09L517.59 23.34L513.79 23.34Z" fill="#fff" stroke="#ff1010" stroke-width="0.9" stroke-linejoin="miter"/>
<path d="M522.18 27.84L524.08 31.09L520.28 31.09Z" fill="#fff" stroke="#ff1010" stroke-width="0.9" stroke-linejoin="miter"/>
<path d="M528.66 30.71L530.56 33.96L526.76 33.96Z" fill="#fff" stroke="#ff1010" stroke-width="0.9" stroke-linejoin="miter"/>
<path d="M535.15 26.93L537.05 30.18L533.25 30.18Z" fill="#fff" stroke="#ff1010" stroke-width="0.9" stroke-linejoin="miter"/>
<path d="M541.63 29.05L543.53 32.3L539.73 32.3Z" fill="#fff" stroke="#ff1010" stroke-width="0.9" stroke-linejoin="miter"/>
</g>
<clipPath id="c4"><rect x="353.6" y="89.1" width="190.7" height="62.2"/></clipPath>
<g clip-path="url(#c4)">
<polyline points="353.60,102.59 353.80,104.20 354.00,106.75 354.20,109.60 354.40,112.18 354.60,114.15 354.80,115.52 355.00,116.49 355.20,117.28 355.40,117.98 355.60,118.41 355.80,118.22 356.00,117.04 356.20,114.76 356.40,111.58 356.60,108.09 356.80,105.03 357.00,103.07 357.20,102.59 357.40,103.51 357.60,105.38 357.80,107.58 358.00,109.52 358.20,110.90 358.40,111.71 358.60,112.18 358.80,112.53 359.00,112.85 359.20,112.97 359.40,112.54 359.60,111.21 359.80,108.85 360.00,105.67 360.20,102.26 360.40,99.35 360.60,97.63 360.80,97.46 361.00,98.75 361.20,101.07 361.40,103.76 361.60,106.26 361.80,108.23 362.00,109.68 362.20,110.81 362.40,111.84 362.60,112.85 362.80,113.66 363.00,113.91 363.21,113.24 363.41,111.50 363.61,108.93 363.81,106.07 364.01,103.66 364.21,102.38 364.41,102.58 364.61,104.19 364.81,106.74 365.01,109.60 365.21,112.17 365.41,114.15 365.61,115.52 365.81,116.48 366.01,117.28 366.21,117.98 366.41,118.41 366.61,118.22 366.81,117.05 367.01,114.77 367.21,111.60 367.41,108.10 367.61,105.04 367.81,103.08 368.01,102.59 368.21,103.51 368.41,105.38 368.61,107.57 368.81,109.51 369.01,110.90 369.21,111.71 369.41,112.18 369.61,112.53 369.81,112.85 370.01,112.97 370.21,112.54 370.41,111.22 370.61,108.86 370.81,105.68 371.01,102.27 371.21,99.36 371.41,97.63 371.61,97.45 371.81,98.75 372.01,101.06 372.21,103.75 372.41,106.25 372.61,108.23 372.81,109.68 373.01,110.80 373.21,111.84 373.41,112.85 373.61,113.65 373.81,113.91 374.01,113.24 374.21,111.51 374.41,108.94 374.61,106.07 374.81,103.67 375.01,102.38 375.21,102.58 375.41,104.18 375.61,106.73 375.81,109.59 376.01,112.16 376.21,114.14 376.41,115.51 376.61,116.48 376.81,117.28 377.01,117.98 377.21,118.41 377.41,118.22 377.61,117.06 377.81,114.78 378.01,111.61 378.21,108.11 378.41,105.04 378.61,103.08 378.81,102.59 379.01,103.50 379.21,105.37 379.41,107.56 379.61,109.51 379.81,110.89 380.01,111.71 380.21,112.17 380.41,112.53 380.61,112.85 380.81,112.97 381.01,112.55 381.21,111.22 381.41,108.87 381.61,105.69 381.81,102.28 382.01,99.37 382.22,97.64 382.42,97.45 382.62,98.74 382.82,101.05 383.02,103.75 383.22,106.24 383.42,108.22 383.62,109.67 383.82,110.80 384.02,111.83 384.22,112.84 384.42,113.65 384.62,113.91 384.82,113.24 385.02,111.52 385.22,108.95 385.42,106.08 385.62,103.67 385.82,102.39 386.02,102.58 386.22,104.18 386.42,106.72 386.62,109.58 386.82,112.16 387.02,114.14 387.22,115.51 387.42,116.48 387.62,117.28 387.82,117.98 388.02,118.41 388.22,118.22 388.42,117.06 388.62,114.79 388.82,111.62 389.02,108.12 389.22,105.05 389.42,103.08 389.62,102.59 389.82,103.50 390.02,105.36 390.22,107.56 390.42,109.50 390.62,110.89 390.82,111.71 391.02,112.17 391.22,112.53 391.42,112.85 391.62,112.97 391.82,112.55 392.02,111.23 392.22,108.87 392.42,105.71 392.62,102.29 392.82,99.38 393.02,97.64 393.22,97.45 393.42,98.73 393.62,101.04 393.82,103.74 394.02,106.24 394.22,108.22 394.42,109.67 394.62,110.80 394.82,111.83 395.02,112.84 395.22,113.65 395.42,113.91 395.62,113.25 395.82,111.53 396.02,108.96 396.22,106.09 396.42,103.68 396.62,102.39 396.82,102.58 397.02,104.17 397.22,106.71 397.42,109.57 397.62,112.15 397.82,114.13 398.02,115.51 398.22,116.47 398.42,117.27 398.62,117.98 398.82,118.41 399.02,118.23 399.22,117.07 399.42,114.80 399.62,111.63 399.82,108.13 400.02,105.06 400.22,103.09 400.42,102.59 400.62,103.49 400.82,105.36 401.02,107.55 401.22,109.50 401.43,110.88 401.63,111.70 401.83,112.17 402.03,112.53 402.23,112.85 402.43,112.97 402.63,112.55 402.83,111.24 403.03,108.88 403.23,105.72 403.43,102.30 403.63,99.38 403.83,97.64 404.03,97.45 404.23,98.73 404.43,101.03 404.63,103.73 404.83,106.23 405.03,108.21 405.23,109.66 405.43,110.79 405.63,111.83 405.83,112.84 406.03,113.65 406.23,113.91 406.43,113.25 406.63,111.53 406.83,108.97 407.03,106.10 407.23,103.69 407.43,102.39 407.63,102.57 407.83,104.16 408.03,106.70 408.23,109.56 408.43,112.14 408.63,114.13 408.83,115.50 409.03,116.47 409.23,117.27 409.43,117.97 409.63,118.41 409.83,118.23 410.03,117.07 410.23,114.80 410.43,111.64 410.63,108.15 410.83,105.07 411.03,103.09 411.23,102.59 411.43,103.49 411.63,105.35 411.83,107.54 412.03,109.49 412.23,110.88 412.43,111.70 412.63,112.17 412.83,112.53 413.03,112.85 413.23,112.97 413.43,112.56 413.63,111.24 413.83,108.89 414.03,105.73 414.23,102.31 414.43,99.39 414.63,97.65 414.83,97.45 415.03,98.72 415.23,101.03 415.43,103.72 415.63,106.22 415.83,108.21 416.03,109.66 416.23,110.79 416.43,111.82 416.63,112.83 416.83,113.65 417.03,113.91 417.23,113.26 417.43,111.54 417.63,108.98 417.83,106.11 418.03,103.69 418.23,102.39 418.43,102.57 418.63,104.15 418.83,106.69 419.03,109.55 419.23,112.13 419.43,114.12 419.63,115.50 419.83,116.47 420.03,117.27 420.23,117.97 420.44,118.41 420.64,118.23 420.84,117.08 421.04,114.81 421.24,111.65 421.44,108.16 421.64,105.08 421.84,103.10 422.04,102.58 422.24,103.48 422.44,105.34 422.64,107.53 422.84,109.49 423.04,110.88 423.24,111.70 423.44,112.17 423.64,112.52 423.84,112.85 424.04,112.97 424.24,112.56 424.44,111.25 424.64,108.90 424.84,105.74 425.04,102.32 425.24,99.40 425.44,97.65 425.64,97.44 425.84,98.72 426.04,101.02 426.24,103.71 426.44,106.21 426.64,108.20 426.84,109.66 427.04,110.79 427.24,111.82 427.44,112.83 427.64,113.64 427.84,113.91 428.04,113.26 428.24,111.55 428.44,108.98 428.64,106.12 428.84,103.70 429.04,102.39 429.24,102.57 429.44,104.15 429.64,106.69 429.84,109.54 430.04,112.13 430.24,114.12 430.44,115.49 430.64,116.47 430.84,117.27 431.04,117.97 431.24,118.41 431.44,118.23 431.64,117.08 431.84,114.82 432.04,111.66 432.24,108.17 432.44,105.09 432.64,103.10 432.84,102.58 433.04,103.48 433.24,105.33 433.44,107.53 433.64,109.48 433.84,110.87 434.04,111.70 434.24,112.17 434.44,112.52 434.64,112.85 434.84,112.97 435.04,112.56 435.24,111.25 435.44,108.91 435.64,105.75 435.84,102.33 436.04,99.41 436.24,97.65 436.44,97.44 436.64,98.71 436.84,101.01 437.04,103.70 437.24,106.21 437.44,108.20 437.64,109.65 437.84,110.78 438.04,111.82 438.24,112.83 438.44,113.64 438.64,113.91 438.84,113.26 439.04,111.56 439.24,108.99 439.45,106.13 439.65,103.71 439.85,102.40 440.05,102.56 440.25,104.14 440.45,106.68 440.65,109.53 440.85,112.12 441.05,114.11 441.25,115.49 441.45,116.46 441.65,117.26 441.85,117.97 442.05,118.41 442.25,118.23 442.45,117.09 442.65,114.83 442.85,111.68 443.05,108.18 443.25,105.10 443.45,103.11 443.65,102.58 443.85,103.47 444.05,105.33 444.25,107.52 444.45,109.48 444.65,110.87 444.85,111.70 445.05,112.17 445.25,112.52 445.45,112.85 445.65,112.98 445.85,112.56 446.05,111.26 446.25,108.92 446.45,105.76 446.65,102.34 446.85,99.42 447.05,97.66 447.25,97.44 447.45,98.70 447.65,101.00 447.85,103.69 448.05,106.20 448.25,108.19 448.45,109.65 448.65,110.78 448.85,111.81 449.05,112.82 449.25,113.64 449.45,113.91 449.65,113.27 449.85,111.56 450.05,109.00 450.25,106.14 450.45,103.71 450.65,102.40 450.85,102.56 451.05,104.13 451.25,106.67 451.45,109.52 451.65,112.11 451.85,114.10 452.05,115.49 452.25,116.46 452.45,117.26 452.65,117.96 452.85,118.41 453.05,118.24 453.25,117.10 453.45,114.84 453.65,111.69 453.85,108.19 454.05,105.10 454.25,103.11 454.45,102.58 454.65,103.47 454.85,105.32 455.05,107.51 455.25,109.47 455.45,110.87 455.65,111.69 455.85,112.17 456.05,112.52 456.25,112.84 456.45,112.98 456.65,112.57 456.85,111.27 457.05,108.93 457.25,105.77 457.45,102.36 457.65,99.42 457.85,97.66 458.05,97.44 458.25,98.70 458.45,100.99 458.66,103.68 458.86,106.19 459.06,108.18 459.26,109.64 459.46,110.77 459.66,111.81 459.86,112.82 460.06,113.64 460.26,113.91 460.46,113.27 460.66,111.57 460.86,109.01 461.06,106.15 461.26,103.72 461.46,102.40 461.66,102.56 461.86,104.13 462.06,106.66 462.26,109.51 462.46,112.10 462.66,114.10 462.86,115.48 463.06,116.46 463.26,117.26 463.46,117.96 463.66,118.41 463.86,118.24 464.06,117.10 464.26,114.85 464.46,111.70 464.66,108.20 464.86,105.11 465.06,103.11 465.26,102.58 465.46,103.46 465.66,105.31 465.86,107.51 466.06,109.46 466.26,110.86 466.46,111.69 466.66,112.16 466.86,112.52 467.06,112.84 467.26,112.98 467.46,112.57 467.66,111.27 467.86,108.94 468.06,105.79 468.26,102.37 468.46,99.43 468.66,97.66 468.86,97.44 469.06,98.69 469.26,100.98 469.46,103.67 469.66,106.18 469.86,108.18 470.06,109.64 470.26,110.77 470.46,111.80 470.66,112.82 470.86,113.64 471.06,113.91 471.26,113.27 471.46,111.58 471.66,109.02 471.86,106.16 472.06,103.73 472.26,102.40 472.46,102.55 472.66,104.12 472.86,106.65 473.06,109.50 473.26,112.09 473.46,114.09 473.66,115.48 473.86,116.45 474.06,117.26 474.26,117.96 474.46,118.41 474.66,118.24 474.86,117.11 475.06,114.86 475.26,111.71 475.46,108.21 475.66,105.12 475.86,103.12 476.06,102.58 476.26,103.46 476.46,105.31 476.66,107.50 476.86,109.46 477.06,110.86 477.26,111.69 477.46,112.16 477.67,112.52 477.87,112.84 478.07,112.98 478.27,112.57 478.47,111.28 478.67,108.95 478.87,105.80 479.07,102.38 479.27,99.44 479.47,97.67 479.67,97.43 479.87,98.68 480.07,100.97 480.27,103.67 480.47,106.18 480.67,108.17 480.87,109.64 481.07,110.77 481.27,111.80 481.47,112.81 481.67,113.63 481.87,113.91 482.07,113.28 482.27,111.59 482.47,109.03 482.67,106.17 482.87,103.73 483.07,102.40 483.27,102.55 483.47,104.11 483.67,106.64 483.87,109.49 484.07,112.09 484.27,114.09 484.47,115.47 484.67,116.45 484.87,117.25 485.07,117.96 485.27,118.40 485.47,118.24 485.67,117.11 485.87,114.87 486.07,111.72 486.27,108.23 486.47,105.13 486.67,103.12 486.87,102.58 487.07,103.45 487.27,105.30 487.47,107.49 487.67,109.45 487.87,110.86 488.07,111.69 488.27,112.16 488.47,112.52 488.67,112.84 488.87,112.98 489.07,112.57 489.27,111.28 489.47,108.96 489.67,105.81 489.87,102.39 490.07,99.45 490.27,97.67 490.47,97.43 490.67,98.68 490.87,100.97 491.07,103.66 491.27,106.17 491.47,108.17 491.67,109.63 491.87,110.76 492.07,111.80 492.27,112.81 492.47,113.63 492.67,113.91 492.87,113.28 493.07,111.59 493.27,109.04 493.47,106.18 493.67,103.74 493.87,102.41 494.07,102.55 494.27,104.10 494.47,106.63 494.67,109.48 494.87,112.08 495.07,114.08 495.27,115.47 495.47,116.45 495.67,117.25 495.87,117.96 496.07,118.40 496.27,118.24 496.47,117.12 496.68,114.88 496.88,111.73 497.08,108.24 497.28,105.14 497.48,103.13 497.68,102.58 497.88,103.45 498.08,105.29 498.28,107.48 498.48,109.45 498.68,110.85 498.88,111.69 499.08,112.16 499.28,112.52 499.48,112.84 499.68,112.98 499.88,112.58 500.08,111.29 500.28,108.97 500.48,105.82 500.68,102.40 500.88,99.46 501.08,97.68 501.28,97.43 501.48,98.67 501.68,100.96 501.88,103.65 502.08,106.16 502.28,108.16 502.48,109.63 502.68,110.76 502.88,111.79 503.08,112.81 503.28,113.63 503.48,113.91 503.68,113.29 503.88,111.60 504.08,109.05 504.28,106.19 504.48,103.75 504.68,102.41 504.88,102.54 505.08,104.10 505.28,106.62 505.48,109.47 505.68,112.07 505.88,114.08 506.08,115.47 506.28,116.45 506.48,117.25 506.68,117.95 506.88,118.40 507.08,118.25 507.28,117.12 507.48,114.89 507.68,111.74 507.88,108.25 508.08,105.15 508.28,103.13 508.48,102.58 508.68,103.44 508.88,105.28 509.08,107.48 509.28,109.44 509.48,110.85 509.68,111.68 509.88,112.16 510.08,112.52 510.28,112.84 510.48,112.98 510.68,112.58 510.88,111.30 511.08,108.98 511.28,105.83 511.48,102.41 511.68,99.47 511.88,97.68 512.08,97.43 512.28,98.67 512.48,100.95 512.68,103.64 512.88,106.15 513.08,108.16 513.28,109.62 513.48,110.76 513.68,111.79 513.88,112.80 514.08,113.63 514.28,113.91 514.48,113.29 514.68,111.61 514.88,109.06 515.08,106.20 515.28,103.75 515.48,102.41 515.68,102.54 515.89,104.09 516.09,106.61 516.29,109.46 516.49,112.06 516.69,114.07 516.89,115.46 517.09,116.44 517.29,117.25 517.49,117.95 517.69,118.40 517.89,118.25 518.09,117.13 518.29,114.90 518.49,111.76 518.69,108.26 518.89,105.16 519.09,103.14 519.29,102.58 519.49,103.44 519.69,105.28 519.89,107.47 520.09,109.44 520.29,110.84 520.49,111.68 520.69,112.16 520.89,112.51 521.09,112.84 521.29,112.98 521.49,112.58 521.69,111.30 521.89,108.99 522.09,105.84 522.29,102.42 522.49,99.47 522.69,97.68 522.89,97.43 523.09,98.66 523.29,100.94 523.49,103.63 523.69,106.15 523.89,108.15 524.09,109.62 524.29,110.75 524.49,111.79 524.69,112.80 524.89,113.63 525.09,113.91 525.29,113.29 525.49,111.61 525.69,109.07 525.89,106.20 526.09,103.76 526.29,102.41 526.49,102.54 526.69,104.08 526.89,106.60 527.09,109.45 527.29,112.06 527.49,114.06 527.69,115.46 527.89,116.44 528.09,117.24 528.29,117.95 528.49,118.40 528.69,118.25 528.89,117.13 529.09,114.91 529.29,111.77 529.49,108.27 529.69,105.17 529.89,103.14 530.09,102.58 530.29,103.43 530.49,105.27 530.69,107.46 530.89,109.43 531.09,110.84 531.29,111.68 531.49,112.16 531.69,112.51 531.89,112.84 532.09,112.98 532.29,112.59 532.49,111.31 532.69,109.00 532.89,105.85 533.09,102.43 533.29,99.48 533.49,97.69 533.69,97.43 533.89,98.65 534.09,100.93 534.29,103.62 534.49,106.14 534.69,108.14 534.90,109.61 535.10,110.75 535.30,111.78 535.50,112.80 535.70,113.62 535.90,113.91 536.10,113.30 536.30,111.62 536.50,109.08 536.70,106.21 536.90,103.77 537.10,102.41 537.30,102.54 537.50,104.08 537.70,106.59 537.90,109.45 538.10,112.05 538.30,114.06 538.50,115.46 538.70,116.44 538.90,117.24 539.10,117.95 539.30,118.40 539.50,118.25 539.70,117.14 539.90,114.92 540.10,111.78 540.30,108.28 540.50,105.18 540.70,103.15 540.90,102.58 541.10,103.43 541.30,105.26 541.50,107.46 541.70,109.42 541.90,110.84 542.10,111.68 542.30,112.16 542.50,112.51 542.70,112.84 542.90,112.98 543.10,112.59 543.30,111.31 543.50,109.01 543.70,105.86 543.90,102.44 544.10,99.49 544.30,97.69" fill="none" stroke="#1a1aff" stroke-width="1.3" stroke-linejoin="round"/>
<rect x="352" y="100.99" width="3.2" height="3.2" fill="#fff" stroke="#1a1aff" stroke-width="0.9"/>
<rect x="358.48" y="102.69" width="3.2" height="3.2" fill="#fff" stroke="#1a1aff" stroke-width="0.9"/>
<rect x="364.97" y="116.72" width="3.2" height="3.2" fill="#fff" stroke="#1a1aff" stroke-width="0.9"/>
<rect x="371.45" y="109.42" width="3.2" height="3.2" fill="#fff" stroke="#1a1aff" stroke-width="0.9"/>
<rect x="377.94" y="107.2" width="3.2" height="3.2" fill="#fff" stroke="#1a1aff" stroke-width="0.9"/>
<rect x="384.42" y="100.99" width="3.2" height="3.2" fill="#fff" stroke="#1a1aff" stroke-width="0.9"/>
<rect x="390.9" y="102.69" width="3.2" height="3.2" fill="#fff" stroke="#1a1aff" stroke-width="0.9"/>
<rect x="397.39" y="116.72" width="3.2" height="3.2" fill="#fff" stroke="#1a1aff" stroke-width="0.9"/>
<rect x="403.87" y="109.42" width="3.2" height="3.2" fill="#fff" stroke="#1a1aff" stroke-width="0.9"/>
<rect x="410.35" y="107.2" width="3.2" height="3.2" fill="#fff" stroke="#1a1aff" stroke-width="0.9"/>
<rect x="416.84" y="100.99" width="3.2" height="3.2" fill="#fff" stroke="#1a1aff" stroke-width="0.9"/>
<rect x="423.32" y="102.69" width="3.2" height="3.2" fill="#fff" stroke="#1a1aff" stroke-width="0.9"/>
<rect x="429.81" y="116.72" width="3.2" height="3.2" fill="#fff" stroke="#1a1aff" stroke-width="0.9"/>
<rect x="436.29" y="109.42" width="3.2" height="3.2" fill="#fff" stroke="#1a1aff" stroke-width="0.9"/>
<rect x="442.77" y="107.2" width="3.2" height="3.2" fill="#fff" stroke="#1a1aff" stroke-width="0.9"/>
<rect x="449.26" y="100.99" width="3.2" height="3.2" fill="#fff" stroke="#1a1aff" stroke-width="0.9"/>
<rect x="455.74" y="102.69" width="3.2" height="3.2" fill="#fff" stroke="#1a1aff" stroke-width="0.9"/>
<rect x="462.22" y="116.72" width="3.2" height="3.2" fill="#fff" stroke="#1a1aff" stroke-width="0.9"/>
<rect x="468.71" y="109.42" width="3.2" height="3.2" fill="#fff" stroke="#1a1aff" stroke-width="0.9"/>
<rect x="475.19" y="107.2" width="3.2" height="3.2" fill="#fff" stroke="#1a1aff" stroke-width="0.9"/>
<rect x="481.68" y="100.99" width="3.2" height="3.2" fill="#fff" stroke="#1a1aff" stroke-width="0.9"/>
<rect x="488.16" y="102.69" width="3.2" height="3.2" fill="#fff" stroke="#1a1aff" stroke-width="0.9"/>
<rect x="494.64" y="116.72" width="3.2" height="3.2" fill="#fff" stroke="#1a1aff" stroke-width="0.9"/>
<rect x="501.13" y="109.42" width="3.2" height="3.2" fill="#fff" stroke="#1a1aff" stroke-width="0.9"/>
<rect x="507.61" y="107.2" width="3.2" height="3.2" fill="#fff" stroke="#1a1aff" stroke-width="0.9"/>
<rect x="514.09" y="100.99" width="3.2" height="3.2" fill="#fff" stroke="#1a1aff" stroke-width="0.9"/>
<rect x="520.58" y="102.69" width="3.2" height="3.2" fill="#fff" stroke="#1a1aff" stroke-width="0.9"/>
<rect x="527.06" y="116.72" width="3.2" height="3.2" fill="#fff" stroke="#1a1aff" stroke-width="0.9"/>
<rect x="533.55" y="109.42" width="3.2" height="3.2" fill="#fff" stroke="#1a1aff" stroke-width="0.9"/>
<rect x="540.03" y="107.2" width="3.2" height="3.2" fill="#fff" stroke="#1a1aff" stroke-width="0.9"/>
</g>
<path d="M353.6 70.8v-3.0M417.17 70.8v-3.0M480.73 70.8v-3.0M544.3 70.8v-3.0M385.38 70.8v-1.8M448.95 70.8v-1.8M512.52 70.8v-1.8M353.6 70.8h3.0M353.6 39.85h3.0M353.6 8.9h3.0M353.6 55.32h1.8M353.6 24.38h1.8" stroke="#555555" stroke-width="1" fill="none"/>
<rect x="353.6" y="8.9" width="190.7" height="61.9" fill="none" stroke="#555555" stroke-width="1.2"/>
<path d="M353.6 151.3v-3.0M417.17 151.3v-3.0M480.73 151.3v-3.0M544.3 151.3v-3.0M385.38 151.3v-1.8M448.95 151.3v-1.8M512.52 151.3v-1.8M353.6 151.3h3.0M353.6 120.2h3.0M353.6 89.1h3.0M353.6 135.75h1.8M353.6 104.65h1.8" stroke="#555555" stroke-width="1" fill="none"/>
<rect x="353.6" y="89.1" width="190.7" height="62.2" fill="none" stroke="#555555" stroke-width="1.2"/>
<line x1="372.5" y1="52.8" x2="391.3" y2="52.8" stroke="#ff1010" stroke-width="1.2"/>
<path d="M381.8 50.8L383.9 54.4L379.7 54.4Z" fill="#fff" stroke="#ff1010" stroke-width="0.9" stroke-linejoin="miter"/>
<text x="393.7" y="55.5" font-size="8.1" text-anchor="start" font-weight="bold" fill="#000" textLength="31.03">SPMSM</text>
<line x1="372" y1="135.2" x2="391.7" y2="135.2" stroke="#1a1aff" stroke-width="1.25"/>
<rect x="379.1" y="133.4" width="3.6" height="3.6" fill="#fff" stroke="#1a1aff" stroke-width="1.0"/>
<text x="392.8" y="137.9" font-size="8.1" text-anchor="start" font-weight="bold" fill="#000" textLength="29.61">IPMSM</text>
<text x="448.3" y="44.9" font-size="8.1" text-anchor="start" font-weight="bold" fill="#000" textLength="69.72">Torque : 7.36 [Nm]</text>
<text x="449.8" y="55.9" font-size="8.1" text-anchor="start" font-weight="bold" fill="#000" textLength="66.86">pk2pk : 0.43 [Nm]</text>
<text x="448.3" y="66.5" font-size="8.1" text-anchor="start" font-weight="bold" fill="#000" textLength="91.45">Torque Ripple : 5.82 [%]</text>
<text x="448.3" y="127.6" font-size="8.1" text-anchor="start" font-weight="bold" fill="#000" textLength="69.72">Torque : 7.36 [Nm]</text>
<text x="449.8" y="138.3" font-size="8.1" text-anchor="start" font-weight="bold" fill="#000" textLength="66.86">pk2pk : 0.73 [Nm]</text>
<text x="448.3" y="148.8" font-size="8.1" text-anchor="start" font-weight="bold" fill="#000" textLength="91.45">Torque Ripple : 9.87 [%]</text>
<text x="350.4" y="11.9" font-size="9.6" text-anchor="end" font-weight="bold" fill="#000">8</text>
<text x="350.4" y="42.85" font-size="9.6" text-anchor="end" font-weight="bold" fill="#000">7</text>
<text x="350.4" y="73.8" font-size="9.6" text-anchor="end" font-weight="bold" fill="#000">6</text>
<text x="353.6" y="81.3" font-size="9.6" text-anchor="middle" font-weight="bold" fill="#000">0</text>
<text x="417.17" y="81.3" font-size="9.6" text-anchor="middle" font-weight="bold" fill="#000">3</text>
<text x="480.73" y="81.3" font-size="9.6" text-anchor="middle" font-weight="bold" fill="#000">6</text>
<text x="544.3" y="81.3" font-size="9.6" text-anchor="middle" font-weight="bold" fill="#000">9</text>
<text x="350.4" y="92.1" font-size="9.6" text-anchor="end" font-weight="bold" fill="#000">8</text>
<text x="350.4" y="123.2" font-size="9.6" text-anchor="end" font-weight="bold" fill="#000">7</text>
<text x="350.4" y="154.3" font-size="9.6" text-anchor="end" font-weight="bold" fill="#000">6</text>
<text x="353.6" y="161.5" font-size="9.6" text-anchor="middle" font-weight="bold" fill="#000">0</text>
<text x="417.17" y="161.5" font-size="9.6" text-anchor="middle" font-weight="bold" fill="#000">3</text>
<text x="480.73" y="161.5" font-size="9.6" text-anchor="middle" font-weight="bold" fill="#000">6</text>
<text x="544.3" y="161.5" font-size="9.6" text-anchor="middle" font-weight="bold" fill="#000">9</text>
<text x="337.6" y="77.7" font-size="13.0" text-anchor="middle" font-weight="bold" fill="#000" transform="rotate(-90 337.6 77.7)">Torque [Nm]</text>
<text x="449" y="176.4" font-size="12.6" text-anchor="middle" font-weight="bold" fill="#000">Time [ms]</text>
<text x="442.8" y="194.6" font-size="12" text-anchor="middle" font-weight="normal" fill="#000">(<tspan font-weight="bold">b</tspan>)</text>
<path d="M107.07 223.6V359.1M168.63 223.6V359.1M45.5 332H230.2M45.5 304.9H230.2M45.5 277.8H230.2M45.5 250.7H230.2" stroke="#d6d6d6" stroke-width="1" fill="none"/>
<clipPath id="c5"><rect x="45.5" y="223.6" width="184.7" height="135.5"/></clipPath>
<g clip-path="url(#c5)">
<polyline points="45.50,250.04 45.75,250.41 46.00,250.63 46.25,250.70 46.50,250.57 46.75,250.25 47.00,249.74 47.25,249.08 47.50,248.30 47.75,247.40 48.00,246.43 48.25,245.40 48.50,244.34 48.75,243.27 49.00,242.22 49.25,241.20 49.50,240.25 49.75,239.39 50.00,238.64 50.26,238.03 50.51,237.58 50.76,237.32 51.01,237.26 51.26,237.37 51.51,237.62 51.76,237.99 52.01,238.47 52.26,239.04 52.51,239.70 52.76,240.43 53.01,241.21 53.26,242.03 53.51,242.89 53.76,243.76 54.01,244.64 54.26,245.50 54.51,246.35 54.76,247.15 55.01,247.91 55.26,248.60 55.51,249.22 55.76,249.75 56.01,250.17 56.26,250.48 56.51,250.66 56.76,250.69 57.01,250.53 57.26,250.17 57.51,249.63 57.76,248.95 58.01,248.14 58.26,247.23 58.51,246.25 58.76,245.21 59.01,244.15 59.26,243.08 59.52,242.03 59.77,241.03 60.02,240.09 60.27,239.25 60.52,238.52 60.77,237.94 61.02,237.52 61.27,237.29 61.52,237.27 61.77,237.41 62.02,237.68 62.27,238.07 62.52,238.56 62.77,239.15 63.02,239.83 63.27,240.56 63.52,241.35 63.77,242.19 64.02,243.05 64.27,243.92 64.52,244.80 64.77,245.66 65.02,246.49 65.27,247.29 65.52,248.04 65.77,248.72 66.02,249.32 66.27,249.83 66.52,250.23 66.77,250.52 67.02,250.68 67.27,250.68 67.52,250.46 67.77,250.02 68.02,249.41 68.27,248.63 68.52,247.72 68.78,246.71 69.03,245.62 69.28,244.47 69.53,243.30 69.78,242.13 70.03,240.99 70.28,239.90 70.53,238.89 70.78,237.99 71.03,237.22 71.28,236.61 71.53,236.19 71.78,235.98 72.03,235.99 72.28,236.17 72.53,236.49 72.78,236.93 73.03,237.50 73.28,238.16 73.53,238.91 73.78,239.73 74.03,240.61 74.28,241.53 74.53,242.48 74.78,243.44 75.03,244.40 75.28,245.34 75.53,246.25 75.78,247.11 76.03,247.92 76.28,248.65 76.53,249.30 76.78,249.83 77.03,250.26 77.28,250.55 77.53,250.69 77.78,250.66 78.04,250.42 78.29,249.99 78.54,249.40 78.79,248.67 79.04,247.83 79.29,246.89 79.54,245.88 79.79,244.83 80.04,243.76 80.29,242.70 80.54,241.66 80.79,240.68 81.04,239.78 81.29,238.97 81.54,238.30 81.79,237.77 82.04,237.42 82.29,237.26 82.54,237.31 82.79,237.49 83.04,237.81 83.29,238.23 83.54,238.77 83.79,239.39 84.04,240.08 84.29,240.84 84.54,241.65 84.79,242.49 85.04,243.36 85.29,244.24 85.54,245.11 85.79,245.96 86.04,246.79 86.29,247.57 86.54,248.29 86.79,248.95 87.04,249.52 87.30,249.99 87.55,250.35 87.80,250.59 88.05,250.70 88.30,250.63 88.55,250.36 88.80,249.90 89.05,249.28 89.30,248.53 89.55,247.66 89.80,246.71 90.05,245.69 90.30,244.64 90.55,243.57 90.80,242.51 91.05,241.48 91.30,240.51 91.55,239.62 91.80,238.84 92.05,238.19 92.30,237.69 92.55,237.37 92.80,237.26 93.05,237.33 93.30,237.54 93.55,237.87 93.80,238.32 94.05,238.87 94.30,239.51 94.55,240.22 94.80,240.98 95.05,241.80 95.30,242.65 95.55,243.52 95.80,244.39 96.05,245.26 96.31,246.11 96.56,246.93 96.81,247.70 97.06,248.41 97.31,249.05 97.56,249.61 97.81,250.06 98.06,250.41 98.31,250.62 98.56,250.70 98.81,250.59 99.06,250.25 99.31,249.71 99.56,249.01 99.81,248.16 100.06,247.19 100.31,246.13 100.56,245.00 100.81,243.84 101.06,242.67 101.31,241.51 101.56,240.39 101.81,239.34 102.06,238.39 102.31,237.55 102.56,236.87 102.81,236.36 103.06,236.04 103.31,235.96 103.56,236.07 103.81,236.32 104.06,236.71 104.31,237.23 104.56,237.85 104.81,238.56 105.06,239.35 105.31,240.20 105.57,241.10 105.82,242.04 106.07,243.00 106.32,243.96 106.57,244.91 106.82,245.83 107.07,246.72 107.32,247.56 107.57,248.33 107.82,249.01 108.07,249.60 108.32,250.08 108.57,250.43 108.82,250.64 109.07,250.70 109.32,250.55 109.57,250.21 109.82,249.69 110.07,249.03 110.32,248.23 110.57,247.33 110.82,246.35 111.07,245.32 111.32,244.25 111.57,243.18 111.82,242.13 112.07,241.12 112.32,240.18 112.57,239.33 112.82,238.59 113.07,237.99 113.32,237.56 113.57,237.31 113.82,237.27 114.07,237.39 114.32,237.65 114.57,238.02 114.83,238.51 115.08,239.09 115.33,239.75 115.58,240.49 115.83,241.27 116.08,242.10 116.33,242.96 116.58,243.83 116.83,244.71 117.08,245.57 117.33,246.41 117.58,247.21 117.83,247.97 118.08,248.65 118.33,249.26 118.58,249.78 118.83,250.20 119.08,250.50 119.33,250.67 119.58,250.69 119.83,250.51 120.08,250.13 120.33,249.58 120.58,248.89 120.83,248.07 121.08,247.16 121.33,246.17 121.58,245.13 121.83,244.06 122.08,242.99 122.33,241.95 122.58,240.95 122.83,240.02 123.08,239.19 123.33,238.47 123.58,237.90 123.83,237.50 124.09,237.28 124.34,237.28 124.59,237.43 124.84,237.70 125.09,238.10 125.34,238.61 125.59,239.21 125.84,239.88 126.09,240.62 126.34,241.42 126.59,242.25 126.84,243.12 127.09,243.99 127.34,244.86 127.59,245.73 127.84,246.56 128.09,247.35 128.34,248.10 128.59,248.77 128.84,249.36 129.09,249.87 129.34,250.26 129.59,250.54 129.84,250.68 130.09,250.67 130.34,250.43 130.59,249.98 130.84,249.35 131.09,248.56 131.34,247.65 131.59,246.63 131.84,245.53 132.09,244.38 132.34,243.21 132.59,242.04 132.84,240.90 133.09,239.81 133.35,238.81 133.60,237.92 133.85,237.16 134.10,236.57 134.35,236.16 134.60,235.97 134.85,236.00 135.10,236.19 135.35,236.52 135.60,236.98 135.85,237.55 136.10,238.22 136.35,238.98 136.60,239.80 136.85,240.68 137.10,241.61 137.35,242.55 137.60,243.51 137.85,244.47 138.10,245.41 138.35,246.32 138.60,247.18 138.85,247.98 139.10,248.71 139.35,249.34 139.60,249.87 139.85,250.28 140.10,250.56 140.35,250.69 140.60,250.65 140.85,250.39 141.10,249.95 141.35,249.35 141.60,248.61 141.85,247.75 142.10,246.81 142.35,245.80 142.61,244.75 142.86,243.68 143.11,242.61 143.36,241.58 143.61,240.60 143.86,239.71 144.11,238.91 144.36,238.25 144.61,237.73 144.86,237.40 145.11,237.26 145.36,237.32 145.61,237.51 145.86,237.84 146.11,238.27 146.36,238.81 146.61,239.44 146.86,240.14 147.11,240.91 147.36,241.72 147.61,242.56 147.86,243.43 148.11,244.31 148.36,245.18 148.61,246.03 148.86,246.85 149.11,247.63 149.36,248.35 149.61,248.99 149.86,249.56 150.11,250.02 150.36,250.38 150.61,250.61 150.86,250.70 151.11,250.62 151.36,250.33 151.61,249.86 151.87,249.23 152.12,248.46 152.37,247.59 152.62,246.63 152.87,245.61 153.12,244.55 153.37,243.48 153.62,242.42 153.87,241.40 154.12,240.44 154.37,239.56 154.62,238.78 154.87,238.14 155.12,237.66 155.37,237.36 155.62,237.26 155.87,237.34 156.12,237.56 156.37,237.91 156.62,238.36 156.87,238.92 157.12,239.56 157.37,240.28 157.62,241.05 157.87,241.87 158.12,242.72 158.37,243.59 158.62,244.46 158.87,245.33 159.12,246.18 159.37,246.99 159.62,247.76 159.87,248.47 160.12,249.10 160.37,249.65 160.62,250.09 160.87,250.43 161.13,250.63 161.38,250.70 161.63,250.57 161.88,250.21 162.13,249.66 162.38,248.94 162.63,248.08 162.88,247.11 163.13,246.04 163.38,244.91 163.63,243.75 163.88,242.57 164.13,241.42 164.38,240.30 164.63,239.26 164.88,238.32 165.13,237.49 165.38,236.82 165.63,236.32 165.88,236.03 166.13,235.96 166.38,236.08 166.63,236.35 166.88,236.75 167.13,237.27 167.38,237.90 167.63,238.62 167.88,239.41 168.13,240.27 168.38,241.18 168.63,242.12 168.88,243.07 169.13,244.03 169.38,244.98 169.63,245.91 169.88,246.79 170.13,247.62 170.39,248.38 170.64,249.06 170.89,249.64 171.14,250.11 171.39,250.45 171.64,250.65 171.89,250.69 172.14,250.53 172.39,250.18 172.64,249.65 172.89,248.97 173.14,248.16 173.39,247.25 173.64,246.27 173.89,245.23 174.14,244.17 174.39,243.10 174.64,242.05 174.89,241.05 175.14,240.11 175.39,239.26 175.64,238.54 175.89,237.95 176.14,237.53 176.39,237.30 176.64,237.27 176.89,237.40 177.14,237.67 177.39,238.06 177.64,238.55 177.89,239.14 178.14,239.81 178.39,240.55 178.64,241.34 178.89,242.17 179.14,243.03 179.39,243.90 179.65,244.78 179.90,245.64 180.15,246.48 180.40,247.28 180.65,248.02 180.90,248.71 181.15,249.31 181.40,249.82 181.65,250.23 181.90,250.52 182.15,250.67 182.40,250.68 182.65,250.48 182.90,250.09 183.15,249.53 183.40,248.83 183.65,248.00 183.90,247.08 184.15,246.09 184.40,245.04 184.65,243.98 184.90,242.91 185.15,241.87 185.40,240.87 185.65,239.95 185.90,239.12 186.15,238.42 186.40,237.86 186.65,237.47 186.90,237.28 187.15,237.28 187.40,237.44 187.65,237.73 187.90,238.14 188.15,238.65 188.40,239.26 188.66,239.94 188.91,240.69 189.16,241.49 189.41,242.32 189.66,243.19 189.91,244.06 190.16,244.93 190.41,245.79 190.66,246.63 190.91,247.42 191.16,248.15 191.41,248.82 191.66,249.41 191.91,249.90 192.16,250.29 192.41,250.56 192.66,250.69 192.91,250.66 193.16,250.40 193.41,249.94 193.66,249.29 193.91,248.49 194.16,247.57 194.41,246.54 194.66,245.44 194.91,244.29 195.16,243.11 195.41,241.95 195.66,240.81 195.91,239.73 196.16,238.74 196.41,237.85 196.66,237.11 196.91,236.53 197.16,236.14 197.41,235.96 197.66,236.01 197.92,236.21 198.17,236.55 198.42,237.02 198.67,237.60 198.92,238.28 199.17,239.04 199.42,239.87 199.67,240.76 199.92,241.68 200.17,242.63 200.42,243.59 200.67,244.55 200.92,245.49 201.17,246.39 201.42,247.25 201.67,248.04 201.92,248.76 202.17,249.39 202.42,249.91 202.67,250.31 202.92,250.58 203.17,250.70 203.42,250.63 203.67,250.36 203.92,249.91 204.17,249.30 204.42,248.54 204.67,247.68 204.92,246.73 205.17,245.72 205.42,244.66 205.67,243.59 205.92,242.53 206.17,241.50 206.42,240.53 206.67,239.64 206.92,238.86 207.18,238.20 207.43,237.70 207.68,237.38 207.93,237.26 208.18,237.33 208.43,237.53 208.68,237.87 208.93,238.31 209.18,238.86 209.43,239.49 209.68,240.20 209.93,240.97 210.18,241.78 210.43,242.63 210.68,243.50 210.93,244.38 211.18,245.25 211.43,246.10 211.68,246.92 211.93,247.69 212.18,248.40 212.43,249.04 212.68,249.60 212.93,250.05 213.18,250.40 213.43,250.62 213.68,250.70 213.93,250.60 214.18,250.30 214.43,249.81 214.68,249.17 214.93,248.40 215.18,247.52 215.43,246.55 215.68,245.53 215.93,244.47 216.18,243.40 216.44,242.34 216.69,241.32 216.94,240.36 217.19,239.49 217.44,238.73 217.69,238.10 217.94,237.63 218.19,237.34 218.44,237.26 218.69,237.35 218.94,237.58 219.19,237.94 219.44,238.40 219.69,238.97 219.94,239.62 220.19,240.34 220.44,241.11 220.69,241.93 220.94,242.79 221.19,243.66 221.44,244.53 221.69,245.40 221.94,246.25 222.19,247.06 222.44,247.82 222.69,248.52 222.94,249.15 223.19,249.69 223.44,250.13 223.69,250.45 223.94,250.64 224.19,250.70 224.44,250.55 224.69,250.17 224.94,249.61 225.19,248.88 225.44,248.01 225.70,247.02 225.95,245.95 226.20,244.82 226.45,243.65 226.70,242.48 226.95,241.33 227.20,240.22 227.45,239.18 227.70,238.24 227.95,237.43 228.20,236.77 228.45,236.29 228.70,236.02 228.95,235.97 229.20,236.10 229.45,236.38 229.70,236.79 229.95,237.32 230.20,237.95" fill="none" stroke="#ff1010" stroke-width="1.25" stroke-linejoin="round"/>
<polyline points="45.50,309.46 45.75,308.07 46.00,306.83 46.25,305.75 46.50,304.87 46.75,304.20 47.00,303.77 47.25,303.60 47.50,303.72 47.75,304.14 48.00,304.81 48.25,305.70 48.50,306.77 48.75,308.00 49.00,309.35 49.25,310.77 49.50,312.25 49.75,313.73 50.00,315.19 50.26,316.58 50.51,317.89 50.76,319.06 51.01,320.08 51.26,320.89 51.51,321.46 51.76,321.77 52.01,321.78 52.26,321.54 52.51,321.08 52.76,320.43 53.01,319.60 53.26,318.63 53.51,317.53 53.76,316.33 54.01,315.05 54.26,313.71 54.51,312.34 54.76,310.96 55.01,309.60 55.26,308.27 55.51,307.01 55.76,305.82 56.01,304.75 56.26,303.81 56.51,303.02 56.76,302.41 57.01,302.00 57.26,301.82 57.51,301.93 57.76,302.47 58.01,303.38 58.26,304.61 58.51,306.12 58.76,307.87 59.01,309.79 59.26,311.84 59.52,313.97 59.77,316.14 60.02,318.29 60.27,320.37 60.52,322.34 60.77,324.15 61.02,325.74 61.27,327.08 61.52,328.10 61.77,328.76 62.02,329.02 62.27,328.94 62.52,328.69 62.77,328.27 63.02,327.72 63.27,327.05 63.52,326.28 63.77,325.42 64.02,324.49 64.27,323.52 64.52,322.51 64.77,321.49 65.02,320.47 65.27,319.48 65.52,318.53 65.77,317.64 66.02,316.82 66.27,316.10 66.52,315.49 66.77,315.01 67.02,314.67 67.27,314.51 67.52,314.54 67.77,314.84 68.02,315.37 68.27,316.12 68.52,317.04 68.78,318.13 69.03,319.33 69.28,320.64 69.53,322.01 69.78,323.43 70.03,324.86 70.28,326.27 70.53,327.64 70.78,328.94 71.03,330.13 71.28,331.20 71.53,332.10 71.78,332.82 72.03,333.33 72.28,333.59 72.53,333.59 72.78,333.31 73.03,332.78 73.28,332.02 73.53,331.05 73.78,329.90 74.03,328.59 74.28,327.15 74.53,325.59 74.78,323.93 75.03,322.21 75.28,320.45 75.53,318.65 75.78,316.86 76.03,315.09 76.28,313.37 76.53,311.71 76.78,310.15 77.03,308.70 77.28,307.38 77.53,306.22 77.78,305.25 78.04,304.48 78.29,303.94 78.54,303.64 78.79,303.63 79.04,303.91 79.29,304.47 79.54,305.26 79.79,306.26 80.04,307.42 80.29,308.72 80.54,310.11 80.79,311.56 81.04,313.05 81.29,314.52 81.54,315.95 81.79,317.30 82.04,318.54 82.29,319.63 82.54,320.54 82.79,321.23 83.04,321.66 83.29,321.81 83.54,321.68 83.79,321.32 84.04,320.75 84.29,320.00 84.54,319.10 84.79,318.05 85.04,316.89 85.29,315.64 85.54,314.33 85.79,312.97 86.04,311.59 86.29,310.22 86.54,308.87 86.79,307.58 87.04,306.36 87.30,305.23 87.55,304.22 87.80,303.36 88.05,302.67 88.30,302.16 88.55,301.87 88.80,301.83 89.05,302.17 89.30,302.92 89.55,304.01 89.80,305.40 90.05,307.04 90.30,308.88 90.55,310.88 90.80,312.98 91.05,315.14 91.30,317.30 91.55,319.42 91.80,321.45 92.05,323.34 92.30,325.04 92.55,326.50 92.80,327.67 93.05,328.51 93.30,328.95 93.55,329.00 93.80,328.82 94.05,328.48 94.30,327.99 94.55,327.38 94.80,326.65 95.05,325.82 95.30,324.93 95.55,323.97 95.80,322.98 96.05,321.96 96.31,320.94 96.56,319.93 96.81,318.96 97.06,318.04 97.31,317.18 97.56,316.42 97.81,315.75 98.06,315.21 98.31,314.81 98.56,314.56 98.81,314.50 99.06,314.67 99.31,315.10 99.56,315.75 99.81,316.60 100.06,317.61 100.31,318.76 100.56,320.03 100.81,321.37 101.06,322.78 101.31,324.20 101.56,325.63 101.81,327.02 102.06,328.35 102.31,329.59 102.56,330.72 102.81,331.71 103.06,332.52 103.31,333.13 103.56,333.50 103.81,333.63 104.06,333.47 104.31,333.05 104.56,332.39 104.81,331.52 105.06,330.45 105.31,329.21 105.57,327.83 105.82,326.32 106.07,324.70 106.32,323.01 106.57,321.26 106.82,319.48 107.07,317.69 107.32,315.90 107.57,314.16 107.82,312.47 108.07,310.86 108.32,309.35 108.57,307.97 108.82,306.73 109.07,305.67 109.32,304.81 109.57,304.16 109.82,303.75 110.07,303.60 110.32,303.75 110.57,304.18 110.82,304.87 111.07,305.78 111.32,306.87 111.57,308.11 111.82,309.46 112.07,310.89 112.32,312.36 112.57,313.85 112.82,315.30 113.07,316.69 113.32,317.99 113.57,319.15 113.82,320.15 114.07,320.94 114.32,321.50 114.57,321.78 114.83,321.77 115.08,321.51 115.33,321.04 115.58,320.37 115.83,319.53 116.08,318.55 116.33,317.44 116.58,316.23 116.83,314.94 117.08,313.60 117.33,312.23 117.58,310.85 117.83,309.49 118.08,308.17 118.33,306.91 118.58,305.73 118.83,304.67 119.08,303.74 119.33,302.97 119.58,302.37 119.83,301.98 120.08,301.81 120.33,301.96 120.58,302.53 120.83,303.46 121.08,304.72 121.33,306.26 121.58,308.01 121.83,309.95 122.08,312.01 122.33,314.15 122.58,316.31 122.83,318.46 123.08,320.53 123.33,322.49 123.58,324.29 123.83,325.86 124.09,327.17 124.34,328.17 124.59,328.80 124.84,329.02 125.09,328.93 125.34,328.66 125.59,328.24 125.84,327.68 126.09,327.00 126.34,326.21 126.59,325.35 126.84,324.42 127.09,323.44 127.34,322.43 127.59,321.41 127.84,320.39 128.09,319.40 128.34,318.46 128.59,317.57 128.84,316.76 129.09,316.04 129.34,315.44 129.59,314.97 129.84,314.65 130.09,314.50 130.34,314.56 130.59,314.87 130.84,315.42 131.09,316.18 131.34,317.12 131.59,318.22 131.84,319.43 132.09,320.75 132.34,322.13 132.59,323.54 132.84,324.97 133.09,326.38 133.35,327.75 133.60,329.03 133.85,330.22 134.10,331.27 134.35,332.17 134.60,332.87 134.85,333.36 135.10,333.60 135.35,333.57 135.60,333.27 135.85,332.72 136.10,331.95 136.35,330.97 136.60,329.80 136.85,328.48 137.10,327.03 137.35,325.46 137.60,323.80 137.85,322.07 138.10,320.30 138.35,318.51 138.60,316.72 138.85,314.95 139.10,313.23 139.35,311.58 139.60,310.03 139.85,308.59 140.10,307.28 140.35,306.14 140.60,305.18 140.85,304.43 141.10,303.90 141.35,303.63 141.60,303.64 141.85,303.95 142.10,304.52 142.35,305.33 142.61,306.35 142.86,307.52 143.11,308.83 143.36,310.22 143.61,311.68 143.86,313.17 144.11,314.64 144.36,316.06 144.61,317.41 144.86,318.64 145.11,319.71 145.36,320.60 145.61,321.27 145.86,321.69 146.11,321.81 146.36,321.66 146.61,321.28 146.86,320.70 147.11,319.94 147.36,319.02 147.61,317.96 147.86,316.79 148.11,315.54 148.36,314.22 148.61,312.86 148.86,311.48 149.11,310.11 149.36,308.77 149.61,307.48 149.86,306.26 150.11,305.15 150.36,304.15 150.61,303.30 150.86,302.62 151.11,302.13 151.36,301.86 151.61,301.84 151.87,302.22 152.12,302.99 152.37,304.11 152.62,305.52 152.87,307.18 153.12,309.04 153.37,311.05 153.62,313.16 153.87,315.31 154.12,317.48 154.37,319.59 154.62,321.61 154.87,323.48 155.12,325.17 155.37,326.60 155.62,327.75 155.87,328.56 156.12,328.97 156.37,328.99 156.62,328.80 156.87,328.45 157.12,327.95 157.37,327.32 157.62,326.58 157.87,325.76 158.12,324.85 158.37,323.89 158.62,322.90 158.87,321.88 159.12,320.86 159.37,319.86 159.62,318.89 159.87,317.97 160.12,317.12 160.37,316.36 160.62,315.70 160.87,315.17 161.13,314.78 161.38,314.55 161.63,314.50 161.88,314.70 162.13,315.14 162.38,315.81 162.63,316.67 162.88,317.70 163.13,318.86 163.38,320.13 163.63,321.49 163.88,322.89 164.13,324.32 164.38,325.74 164.63,327.13 164.88,328.45 165.13,329.69 165.38,330.81 165.63,331.78 165.88,332.57 166.13,333.16 166.38,333.52 166.63,333.62 166.88,333.44 167.13,333.01 167.38,332.33 167.63,331.44 167.88,330.36 168.13,329.11 168.38,327.71 168.63,326.19 168.88,324.57 169.13,322.87 169.38,321.12 169.63,319.34 169.88,317.54 170.13,315.76 170.39,314.02 170.64,312.33 170.89,310.73 171.14,309.23 171.39,307.86 171.64,306.64 171.89,305.60 172.14,304.75 172.39,304.11 172.64,303.72 172.89,303.60 173.14,303.77 173.39,304.23 173.64,304.93 173.89,305.86 174.14,306.96 174.39,308.21 174.64,309.57 174.89,311.01 175.14,312.48 175.39,313.96 175.64,315.41 175.89,316.80 176.14,318.09 176.39,319.24 176.64,320.22 176.89,321.00 177.14,321.53 177.39,321.79 177.64,321.76 177.89,321.48 178.14,320.99 178.39,320.31 178.64,319.46 178.89,318.46 179.14,317.34 179.39,316.13 179.65,314.83 179.90,313.49 180.15,312.12 180.40,310.74 180.65,309.38 180.90,308.06 181.15,306.81 181.40,305.64 181.65,304.59 181.90,303.67 182.15,302.91 182.40,302.33 182.65,301.96 182.90,301.81 183.15,301.99 183.40,302.59 183.65,303.55 183.90,304.84 184.15,306.39 184.40,308.16 184.65,310.11 184.90,312.18 185.15,314.32 185.40,316.48 185.65,318.63 185.90,320.70 186.15,322.64 186.40,324.42 186.65,325.98 186.90,327.26 187.15,328.23 187.40,328.83 187.65,329.02 187.90,328.91 188.15,328.63 188.40,328.20 188.66,327.62 188.91,326.94 189.16,326.15 189.41,325.28 189.66,324.34 189.91,323.36 190.16,322.35 190.41,321.33 190.66,320.31 190.91,319.33 191.16,318.38 191.41,317.50 191.66,316.70 191.91,315.99 192.16,315.40 192.41,314.94 192.66,314.64 192.91,314.50 193.16,314.57 193.41,314.91 193.66,315.48 193.91,316.25 194.16,317.21 194.41,318.31 194.66,319.54 194.91,320.86 195.16,322.24 195.41,323.66 195.66,325.09 195.91,326.49 196.16,327.85 196.41,329.13 196.66,330.31 196.91,331.35 197.16,332.23 197.41,332.92 197.66,333.39 197.92,333.61 198.17,333.56 198.42,333.24 198.67,332.67 198.92,331.88 199.17,330.88 199.42,329.70 199.67,328.37 199.92,326.91 200.17,325.33 200.42,323.66 200.67,321.93 200.92,320.16 201.17,318.37 201.42,316.58 201.67,314.81 201.92,313.10 202.17,311.46 202.42,309.91 202.67,308.48 202.92,307.18 203.17,306.06 203.42,305.11 203.67,304.38 203.92,303.87 204.17,303.62 204.42,303.65 204.67,303.98 204.92,304.58 205.17,305.41 205.42,306.43 205.67,307.62 205.92,308.93 206.17,310.34 206.42,311.80 206.67,313.28 206.92,314.75 207.18,316.17 207.43,317.51 207.68,318.73 207.93,319.79 208.18,320.67 208.43,321.32 208.68,321.71 208.93,321.81 209.18,321.64 209.43,321.24 209.68,320.65 209.93,319.87 210.18,318.94 210.43,317.87 210.68,316.70 210.93,315.44 211.18,314.11 211.43,312.75 211.68,311.37 211.93,310.00 212.18,308.66 212.43,307.38 212.68,306.17 212.93,305.06 213.18,304.08 213.43,303.24 213.68,302.57 213.93,302.10 214.18,301.85 214.43,301.86 214.68,302.27 214.93,303.07 215.18,304.21 215.43,305.64 215.68,307.32 215.93,309.20 216.18,311.21 216.44,313.33 216.69,315.49 216.94,317.65 217.19,319.76 217.44,321.77 217.69,323.63 217.94,325.29 218.19,326.71 218.44,327.83 218.69,328.60 218.94,328.99 219.19,328.98 219.44,328.78 219.69,328.41 219.94,327.90 220.19,327.27 220.44,326.52 220.69,325.69 220.94,324.78 221.19,323.81 221.44,322.81 221.69,321.80 221.94,320.78 222.19,319.78 222.44,318.81 222.69,317.90 222.94,317.05 223.19,316.30 223.44,315.66 223.69,315.13 223.94,314.76 224.19,314.54 224.44,314.51 224.69,314.72 224.94,315.19 225.19,315.87 225.44,316.75 225.70,317.79 225.95,318.96 226.20,320.24 226.45,321.60 226.70,323.00 226.95,324.43 227.20,325.85 227.45,327.24 227.70,328.56 227.95,329.78 228.20,330.89 228.45,331.85 228.70,332.63 228.95,333.20 229.20,333.54 229.45,333.62 229.70,333.42 229.95,332.96 230.20,332.27" fill="none" stroke="#1a1aff" stroke-width="1.25" stroke-linejoin="round"/>
</g>
<path d="M45.5 359.1v-3.0M107.07 359.1v-3.0M168.63 359.1v-3.0M230.2 359.1v-3.0M76.28 359.1v-1.8M137.85 359.1v-1.8M199.42 359.1v-1.8M45.5 359.1h3.0M45.5 332h3.0M45.5 304.9h3.0M45.5 277.8h3.0M45.5 250.7h3.0M45.5 223.6h3.0M45.5 345.55h1.8M45.5 318.45h1.8M45.5 291.35h1.8M45.5 264.25h1.8M45.5 237.15h1.8" stroke="#555555" stroke-width="1" fill="none"/>
<rect x="45.5" y="223.6" width="184.7" height="135.5" fill="none" stroke="#555555" stroke-width="1.2"/>
<line x1="48.2" y1="273.3" x2="72" y2="273.3" stroke="#ff1010" stroke-width="1.25"/>
<line x1="48.2" y1="286.4" x2="72" y2="286.4" stroke="#1a1aff" stroke-width="1.25"/>
<text x="74.7" y="276.8" font-size="10.5" text-anchor="start" font-weight="bold" fill="#000">Average : 66.36 [W] (SPMSM)</text>
<text x="74.7" y="289.9" font-size="10.5" text-anchor="start" font-weight="bold" fill="#000">Average : 52.60 [W] (IPMSM)</text>
<text x="41.9" y="226.6" font-size="9.6" text-anchor="end" font-weight="bold" fill="#000">70</text>
<text x="41.9" y="253.7" font-size="9.6" text-anchor="end" font-weight="bold" fill="#000">65</text>
<text x="41.9" y="280.8" font-size="9.6" text-anchor="end" font-weight="bold" fill="#000">60</text>
<text x="41.9" y="307.9" font-size="9.6" text-anchor="end" font-weight="bold" fill="#000">55</text>
<text x="41.9" y="335" font-size="9.6" text-anchor="end" font-weight="bold" fill="#000">50</text>
<text x="41.9" y="362.1" font-size="9.6" text-anchor="end" font-weight="bold" fill="#000">45</text>
<text x="45.5" y="370.8" font-size="9.6" text-anchor="middle" font-weight="bold" fill="#000">5</text>
<text x="107.07" y="370.8" font-size="9.6" text-anchor="middle" font-weight="bold" fill="#000">6</text>
<text x="168.63" y="370.8" font-size="9.6" text-anchor="middle" font-weight="bold" fill="#000">7</text>
<text x="230.2" y="370.8" font-size="9.6" text-anchor="middle" font-weight="bold" fill="#000">8</text>
<text x="26.4" y="291.8" font-size="13.8" text-anchor="middle" font-weight="bold" fill="#000" transform="rotate(-90 26.4 291.8)">Core Loss [W]</text>
<text x="137.7" y="383.6" font-size="13.2" text-anchor="middle" font-weight="bold" fill="#000">Time[ms]</text>
<text x="132" y="407.5" font-size="12" text-anchor="middle" font-weight="normal" fill="#000">(<tspan font-weight="bold">c</tspan>)</text>
<path d="M417.97 223.6V359.1M479.43 223.6V359.1M356.5 325.23H540.9M356.5 291.35H540.9M356.5 257.48H540.9" stroke="#d6d6d6" stroke-width="1" fill="none"/>
<clipPath id="c6"><rect x="356.5" y="223.6" width="184.4" height="135.5"/></clipPath>
<g clip-path="url(#c6)">
<polyline points="356.50,266.65 356.75,266.74 357.00,266.86 357.25,267.00 357.50,267.14 357.75,267.24 358.00,267.30 358.25,267.28 358.50,267.19 358.75,267.04 359.00,266.83 359.25,266.58 359.50,266.29 359.75,265.96 360.00,265.61 360.25,265.24 360.50,264.85 360.75,264.46 361.00,263.99 361.25,263.42 361.50,262.76 361.75,262.03 362.00,261.25 362.25,260.42 362.50,259.56 362.76,258.68 363.01,257.79 363.26,256.91 363.51,255.95 363.76,254.78 364.01,253.48 364.26,252.10 364.51,250.72 364.76,249.39 365.01,248.19 365.26,247.19 365.51,246.44 365.76,246.03 366.01,246.01 366.26,246.53 366.51,247.52 366.76,248.89 367.01,250.52 367.26,252.33 367.51,254.21 367.76,256.07 368.01,257.80 368.26,259.32 368.51,260.51 368.76,261.54 369.01,262.60 369.26,263.66 369.51,264.70 369.76,265.68 370.01,266.57 370.26,267.34 370.51,267.96 370.76,268.40 371.01,268.63 371.26,268.64 371.51,268.58 371.76,268.45 372.01,268.28 372.26,268.06 372.51,267.81 372.76,267.53 373.01,267.22 373.26,266.90 373.51,266.58 373.76,266.25 374.01,265.80 374.26,265.20 374.51,264.48 374.76,263.70 375.02,262.90 375.27,262.12 375.52,261.42 375.77,260.83 376.02,260.41 376.27,260.20 376.52,260.24 376.77,260.53 377.02,261.02 377.27,261.67 377.52,262.43 377.77,263.24 378.02,264.08 378.27,264.89 378.52,265.63 378.77,266.25 379.02,266.71 379.27,267.13 379.52,267.54 379.77,267.96 380.02,268.36 380.27,268.75 380.52,269.11 380.77,269.44 381.02,269.72 381.27,269.97 381.52,270.16 381.77,270.28 382.02,270.34 382.27,270.34 382.52,270.32 382.77,270.29 383.02,270.24 383.27,270.18 383.52,270.11 383.77,270.03 384.02,269.94 384.27,269.84 384.52,269.75 384.77,269.64 385.02,269.47 385.27,269.22 385.52,268.92 385.77,268.58 386.02,268.21 386.27,267.85 386.52,267.50 386.77,267.18 387.02,266.92 387.28,266.73 387.53,266.63 387.78,266.63 388.03,266.71 388.28,266.82 388.53,266.96 388.78,267.10 389.03,267.22 389.28,267.29 389.53,267.29 389.78,267.22 390.03,267.09 390.28,266.90 390.53,266.66 390.78,266.37 391.03,266.06 391.28,265.71 391.53,265.34 391.78,264.96 392.03,264.58 392.28,264.15 392.53,263.62 392.78,263.01 393.03,262.34 393.28,261.59 393.53,260.79 393.78,259.94 394.03,259.06 394.28,258.14 394.53,257.20 394.78,256.18 395.03,254.85 395.28,253.27 395.53,251.54 395.78,249.74 396.03,247.98 396.28,246.34 396.53,244.92 396.78,243.81 397.03,243.11 397.28,242.92 397.53,243.31 397.78,244.26 398.03,245.64 398.28,247.35 398.53,249.28 398.78,251.34 399.03,253.41 399.28,255.38 399.54,257.16 399.79,258.63 400.04,259.83 400.29,261.06 400.54,262.32 400.79,263.56 401.04,264.75 401.29,265.85 401.54,266.82 401.79,267.62 402.04,268.22 402.29,268.57 402.54,268.65 402.79,268.59 403.04,268.47 403.29,268.29 403.54,268.07 403.79,267.81 404.04,267.52 404.29,267.22 404.54,266.91 404.79,266.62 405.04,266.33 405.29,266.04 405.54,265.68 405.79,265.27 406.04,264.84 406.29,264.41 406.54,263.99 406.79,263.62 407.04,263.30 407.29,263.06 407.54,262.92 407.79,262.90 408.04,263.02 408.29,263.25 408.54,263.57 408.79,263.96 409.04,264.41 409.29,264.87 409.54,265.35 409.79,265.81 410.04,266.23 410.29,266.60 410.54,266.94 410.79,267.31 411.04,267.70 411.29,268.10 411.54,268.49 411.79,268.87 412.05,269.23 412.30,269.56 412.55,269.84 412.80,270.07 413.05,270.24 413.30,270.33 413.55,270.35 413.80,270.33 414.05,270.30 414.30,270.26 414.55,270.20 414.80,270.13 415.05,270.05 415.30,269.97 415.55,269.87 415.80,269.77 416.05,269.67 416.30,269.53 416.55,269.30 416.80,269.01 417.05,268.68 417.30,268.32 417.55,267.95 417.80,267.60 418.05,267.27 418.30,266.99 418.55,266.78 418.80,266.65 419.05,266.62 419.30,266.68 419.55,266.79 419.80,266.92 420.05,267.06 420.30,267.19 420.55,267.27 420.80,267.30 421.05,267.25 421.30,267.13 421.55,266.96 421.80,266.73 422.05,266.46 422.30,266.15 422.55,265.81 422.80,265.45 423.05,265.08 423.30,264.69 423.55,264.28 423.80,263.76 424.05,263.15 424.31,262.46 424.56,261.71 424.81,260.91 425.06,260.06 425.31,259.19 425.56,258.30 425.81,257.42 426.06,256.53 426.31,255.48 426.56,254.25 426.81,252.90 427.06,251.52 427.31,250.15 427.56,248.87 427.81,247.75 428.06,246.84 428.31,246.22 428.56,245.96 428.81,246.17 429.06,246.90 429.31,248.06 429.56,249.54 429.81,251.26 430.06,253.11 430.31,255.00 430.56,256.82 430.81,258.47 431.06,259.86 431.31,260.94 431.56,261.98 431.81,263.05 432.06,264.10 432.31,265.12 432.56,266.07 432.81,266.91 433.06,267.62 433.31,268.17 433.56,268.52 433.81,268.65 434.06,268.62 434.31,268.53 434.56,268.39 434.81,268.19 435.06,267.96 435.31,267.69 435.56,267.40 435.81,267.09 436.06,266.77 436.31,266.44 436.57,266.08 436.82,265.56 437.07,264.91 437.32,264.16 437.57,263.36 437.82,262.56 438.07,261.81 438.32,261.15 438.57,260.63 438.82,260.29 439.07,260.19 439.32,260.34 439.57,260.72 439.82,261.28 440.07,261.98 440.32,262.76 440.57,263.60 440.82,264.43 441.07,265.21 441.32,265.91 441.57,266.47 441.82,266.89 442.07,267.30 442.32,267.72 442.57,268.13 442.82,268.52 443.07,268.90 443.32,269.25 443.57,269.56 443.82,269.83 444.07,270.05 444.32,270.22 444.57,270.32 444.82,270.35 445.07,270.34 445.32,270.31 445.57,270.27 445.82,270.22 446.07,270.15 446.32,270.07 446.57,269.99 446.82,269.90 447.07,269.80 447.32,269.70 447.57,269.58 447.82,269.37 448.07,269.10 448.32,268.78 448.57,268.42 448.83,268.06 449.08,267.70 449.33,267.36 449.58,267.07 449.83,266.83 450.08,266.68 450.33,266.62 450.58,266.66 450.83,266.75 451.08,266.88 451.33,267.02 451.58,267.15 451.83,267.25 452.08,267.30 452.33,267.27 452.58,267.17 452.83,267.01 453.08,266.80 453.33,266.54 453.58,266.24 453.83,265.91 454.08,265.56 454.33,265.19 454.58,264.80 454.83,264.41 455.08,263.94 455.33,263.38 455.58,262.74 455.83,262.03 456.08,261.26 456.33,260.44 456.58,259.58 456.83,258.67 457.08,257.75 457.33,256.80 457.58,255.66 457.83,254.21 458.08,252.56 458.33,250.79 458.58,248.99 458.83,247.27 459.08,245.71 459.33,244.41 459.58,243.46 459.83,242.96 460.08,243.01 460.33,243.65 460.58,244.79 460.83,246.32 461.09,248.14 461.34,250.14 461.59,252.21 461.84,254.26 462.09,256.16 462.34,257.82 462.59,259.14 462.84,260.34 463.09,261.59 463.34,262.84 463.59,264.07 463.84,265.22 464.09,266.27 464.34,267.18 464.59,267.90 464.84,268.40 465.09,268.64 465.34,268.64 465.59,268.55 465.84,268.40 466.09,268.20 466.34,267.96 466.59,267.69 466.84,267.40 467.09,267.09 467.34,266.79 467.59,266.49 467.84,266.22 468.09,265.89 468.34,265.51 468.59,265.10 468.84,264.66 469.09,264.23 469.34,263.83 469.59,263.47 469.84,263.19 470.09,262.99 470.34,262.90 470.59,262.94 470.84,263.10 471.09,263.38 471.34,263.73 471.59,264.14 471.84,264.60 472.09,265.07 472.34,265.55 472.59,265.99 472.84,266.40 473.09,266.74 473.35,267.09 473.60,267.47 473.85,267.87 474.10,268.26 474.35,268.65 474.60,269.03 474.85,269.37 475.10,269.68 475.35,269.95 475.60,270.15 475.85,270.29 476.10,270.35 476.35,270.34 476.60,270.32 476.85,270.28 477.10,270.23 477.35,270.17 477.60,270.10 477.85,270.02 478.10,269.93 478.35,269.83 478.60,269.73 478.85,269.62 479.10,269.44 479.35,269.19 479.60,268.88 479.85,268.53 480.10,268.16 480.35,267.80 480.60,267.45 480.85,267.15 481.10,266.89 481.35,266.71 481.60,266.63 481.85,266.64 482.10,266.72 482.35,266.84 482.60,266.98 482.85,267.12 483.10,267.23 483.35,267.29 483.60,267.29 483.85,267.21 484.10,267.07 484.35,266.87 484.60,266.62 484.85,266.33 485.10,266.01 485.35,265.66 485.61,265.30 485.86,264.92 486.11,264.53 486.36,264.07 486.61,263.52 486.86,262.87 487.11,262.16 487.36,261.38 487.61,260.55 487.86,259.70 488.11,258.82 488.36,257.93 488.61,257.05 488.86,256.12 489.11,254.98 489.36,253.69 489.61,252.32 489.86,250.94 490.11,249.60 490.36,248.38 490.61,247.33 490.86,246.54 491.11,246.07 491.36,245.98 491.61,246.42 491.86,247.34 492.11,248.65 492.36,250.24 492.61,252.03 492.86,253.91 493.11,255.77 493.36,257.54 493.61,259.09 493.86,260.35 494.11,261.37 494.36,262.43 494.61,263.49 494.86,264.54 495.11,265.53 495.36,266.43 495.61,267.23 495.86,267.87 496.11,268.34 496.36,268.61 496.61,268.65 496.86,268.59 497.11,268.48 497.36,268.31 497.61,268.10 497.86,267.85 498.12,267.57 498.37,267.27 498.62,266.95 498.87,266.63 499.12,266.30 499.37,265.88 499.62,265.30 499.87,264.60 500.12,263.83 500.37,263.02 500.62,262.24 500.87,261.52 501.12,260.91 501.37,260.46 501.62,260.22 501.87,260.22 502.12,260.47 502.37,260.93 502.62,261.56 502.87,262.30 503.12,263.11 503.37,263.95 503.62,264.77 503.87,265.52 504.12,266.16 504.37,266.65 504.62,267.06 504.87,267.48 505.12,267.89 505.37,268.30 505.62,268.69 505.87,269.05 506.12,269.38 506.37,269.68 506.62,269.93 506.87,270.13 507.12,270.27 507.37,270.34 507.62,270.34 507.87,270.33 508.12,270.29 508.37,270.25 508.62,270.19 508.87,270.12 509.12,270.04 509.37,269.95 509.62,269.86 509.87,269.76 510.12,269.66 510.38,269.50 510.63,269.27 510.88,268.97 511.13,268.63 511.38,268.27 511.63,267.90 511.88,267.55 512.13,267.23 512.38,266.96 512.63,266.76 512.88,266.64 513.13,266.63 513.38,266.69 513.63,266.80 513.88,266.94 514.13,267.08 514.38,267.20 514.63,267.28 514.88,267.30 515.13,267.24 515.38,267.11 515.63,266.93 515.88,266.70 516.13,266.42 516.38,266.11 516.63,265.77 516.88,265.40 517.13,265.03 517.38,264.64 517.63,264.22 517.88,263.71 518.13,263.12 518.38,262.45 518.63,261.72 518.88,260.92 519.13,260.08 519.38,259.20 519.63,258.29 519.88,257.35 520.13,256.36 520.38,255.08 520.63,253.54 520.88,251.82 521.13,250.03 521.38,248.25 521.63,246.59 521.88,245.13 522.13,243.97 522.38,243.19 522.64,242.91 522.89,243.21 523.14,244.07 523.39,245.39 523.64,247.06 523.89,248.96 524.14,251.01 524.39,253.08 524.64,255.08 524.89,256.89 525.14,258.42 525.39,259.64 525.64,260.86 525.89,262.12 526.14,263.36 526.39,264.56 526.64,265.68 526.89,266.67 527.14,267.50 527.39,268.14 527.64,268.53 527.89,268.65 528.14,268.61 528.39,268.49 528.64,268.32 528.89,268.11 529.14,267.85 529.39,267.57 529.64,267.27 529.89,266.96 530.14,266.66 530.39,266.38 530.64,266.09 530.89,265.74 531.14,265.34 531.39,264.91 531.64,264.48 531.89,264.06 532.14,263.67 532.39,263.34 532.64,263.09 532.89,262.93 533.14,262.90 533.39,262.99 533.64,263.21 533.89,263.52 534.14,263.90 534.39,264.33 534.64,264.80 534.90,265.27 535.15,265.74 535.40,266.17 535.65,266.55 535.90,266.88 536.15,267.25 536.40,267.64 536.65,268.03 536.90,268.43 537.15,268.81 537.40,269.18 537.65,269.51 537.90,269.80 538.15,270.04 538.40,270.22 538.65,270.32 538.90,270.35 539.15,270.33 539.40,270.31 539.65,270.26 539.90,270.21 540.15,270.14 540.40,270.06 540.65,269.98 540.90,269.89" fill="none" stroke="#ff1010" stroke-width="1.25" stroke-linejoin="round"/>
<polyline points="356.50,350.78 356.75,349.68 357.00,348.50 357.25,347.26 357.50,345.99 357.75,344.73 358.00,343.49 358.25,342.32 358.50,341.23 358.75,340.26 359.00,339.43 359.25,338.78 359.50,338.33 359.75,338.11 360.00,338.14 360.25,338.36 360.50,338.75 360.75,339.29 361.00,339.97 361.25,340.77 361.50,341.68 361.75,342.66 362.00,343.71 362.25,344.82 362.50,345.95 362.76,347.10 363.01,348.24 363.26,349.37 363.51,350.46 363.76,351.49 364.01,352.45 364.26,353.32 364.51,354.08 364.76,354.72 365.01,355.21 365.26,355.55 365.51,355.70 365.76,355.51 366.01,354.54 366.26,352.84 366.51,350.52 366.76,347.66 367.01,344.36 367.26,340.71 367.51,336.81 367.76,332.74 368.01,328.61 368.26,324.51 368.51,320.53 368.76,316.76 369.01,313.30 369.26,310.24 369.51,307.67 369.76,305.70 370.01,304.40 370.26,303.89 370.51,304.10 370.76,304.84 371.01,306.05 371.26,307.68 371.51,309.69 371.76,312.03 372.01,314.64 372.26,317.47 372.51,320.49 372.76,323.63 373.01,326.85 373.26,330.10 373.51,333.33 373.76,336.49 374.01,339.53 374.26,342.40 374.51,345.06 374.76,347.45 375.02,349.53 375.27,351.23 375.52,352.53 375.77,353.36 376.02,353.68 376.27,353.41 376.52,352.54 376.77,351.15 377.02,349.30 377.27,347.07 377.52,344.52 377.77,341.72 378.02,338.76 378.27,335.68 378.52,332.58 378.77,329.51 379.02,326.54 379.27,323.76 379.52,321.22 379.77,319.01 380.02,317.18 380.27,315.81 380.52,314.97 380.77,314.73 381.02,315.00 381.27,315.67 381.52,316.71 381.77,318.07 382.02,319.72 382.27,321.62 382.52,323.72 382.77,326.00 383.02,328.40 383.27,330.90 383.52,333.45 383.77,336.02 384.02,338.56 384.27,341.03 384.52,343.40 384.77,345.63 385.02,347.68 385.27,349.51 385.52,351.09 385.77,352.36 386.02,353.30 386.27,353.86 386.52,354.02 386.77,353.85 387.02,353.44 387.28,352.82 387.53,352.03 387.78,351.08 388.03,350.01 388.28,348.85 388.53,347.62 388.78,346.36 389.03,345.09 389.28,343.85 389.53,342.65 389.78,341.54 390.03,340.53 390.28,339.66 390.53,338.95 390.78,338.44 391.03,338.15 391.28,338.11 391.53,338.28 391.78,338.62 392.03,339.12 392.28,339.76 392.53,340.53 392.78,341.40 393.03,342.37 393.28,343.40 393.53,344.49 393.78,345.62 394.03,346.77 394.28,347.91 394.53,349.05 394.78,350.15 395.03,351.20 395.28,352.18 395.53,353.08 395.78,353.87 396.03,354.55 396.28,355.08 396.53,355.47 396.78,355.68 397.03,355.65 397.28,354.90 397.53,353.40 397.78,351.25 398.03,348.54 398.28,345.36 398.53,341.80 398.78,337.96 399.03,333.93 399.28,329.81 399.54,325.69 399.79,321.66 400.04,317.82 400.29,314.26 400.54,311.08 400.79,308.36 401.04,306.20 401.29,304.70 401.54,303.95 401.79,303.98 402.04,304.57 402.29,305.65 402.54,307.17 402.79,309.08 403.04,311.32 403.29,313.85 403.54,316.63 403.79,319.60 404.04,322.71 404.29,325.91 404.54,329.16 404.79,332.40 405.04,335.58 405.29,338.66 405.54,341.59 405.79,344.32 406.04,346.79 406.29,348.96 406.54,350.78 406.79,352.20 407.04,353.17 407.29,353.64 407.54,353.55 407.79,352.85 408.04,351.60 408.29,349.88 408.54,347.75 408.79,345.29 409.04,342.56 409.29,339.63 409.54,336.58 409.79,333.48 410.04,330.39 410.29,327.39 410.54,324.55 410.79,321.93 411.04,319.61 411.29,317.66 411.54,316.15 411.79,315.15 412.05,314.73 412.30,314.88 412.55,315.44 412.80,316.37 413.05,317.65 413.30,319.22 413.55,321.05 413.80,323.09 414.05,325.32 414.30,327.70 414.55,330.17 414.80,332.71 415.05,335.27 415.30,337.82 415.55,340.32 415.80,342.73 416.05,345.00 416.30,347.11 416.55,349.01 416.80,350.66 417.05,352.02 417.30,353.06 417.55,353.74 417.80,354.01 418.05,353.92 418.30,353.58 418.55,353.02 418.80,352.27 419.05,351.37 419.30,350.33 419.55,349.20 419.80,347.99 420.05,346.73 420.30,345.46 420.55,344.21 420.80,342.99 421.05,341.85 421.30,340.81 421.55,339.89 421.80,339.14 422.05,338.57 422.30,338.21 422.55,338.10 422.80,338.21 423.05,338.50 423.30,338.96 423.55,339.56 423.80,340.30 424.05,341.14 424.31,342.08 424.56,343.10 424.81,344.17 425.06,345.29 425.31,346.43 425.56,347.58 425.81,348.72 426.06,349.83 426.31,350.90 426.56,351.90 426.81,352.83 427.06,353.65 427.31,354.36 427.56,354.94 427.81,355.37 428.06,355.63 428.31,355.71 428.56,355.20 428.81,353.91 429.06,351.94 429.31,349.38 429.56,346.32 429.81,342.86 430.06,339.10 430.31,335.11 430.56,331.01 430.81,326.88 431.06,322.82 431.31,318.91 431.56,315.26 431.81,311.96 432.06,309.09 432.31,306.77 432.56,305.07 432.81,304.09 433.06,303.91 433.31,304.35 433.56,305.29 433.81,306.69 434.06,308.49 434.31,310.64 434.56,313.09 434.81,315.80 435.06,318.72 435.31,321.79 435.56,324.97 435.81,328.21 436.06,331.46 436.31,334.67 436.57,337.78 436.82,340.76 437.07,343.55 437.32,346.10 437.57,348.36 437.82,350.29 438.07,351.83 438.32,352.94 438.57,353.56 438.82,353.64 439.07,353.11 439.32,352.02 439.57,350.43 439.82,348.41 440.07,346.03 440.32,343.37 440.57,340.49 440.82,337.47 441.07,334.38 441.32,331.28 441.57,328.25 441.82,325.35 442.07,322.66 442.32,320.25 442.57,318.19 442.82,316.54 443.07,315.39 443.32,314.79 443.57,314.79 443.82,315.23 444.07,316.07 444.32,317.24 444.57,318.73 444.82,320.49 445.07,322.48 445.32,324.66 445.57,327.00 445.82,329.44 446.07,331.97 446.32,334.53 446.57,337.09 446.82,339.61 447.07,342.04 447.32,344.36 447.57,346.52 447.82,348.48 448.07,350.21 448.32,351.66 448.57,352.80 448.83,353.58 449.08,353.98 449.33,353.97 449.58,353.70 449.83,353.20 450.08,352.51 450.33,351.65 450.58,350.64 450.83,349.53 451.08,348.34 451.33,347.10 451.58,345.83 451.83,344.57 452.08,343.34 452.33,342.17 452.58,341.10 452.83,340.14 453.08,339.34 453.33,338.71 453.58,338.29 453.83,338.10 454.08,338.16 454.33,338.40 454.58,338.81 454.83,339.37 455.08,340.07 455.33,340.89 455.58,341.80 455.83,342.79 456.08,343.85 456.33,344.96 456.58,346.10 456.83,347.25 457.08,348.39 457.33,349.51 457.58,350.59 457.83,351.62 458.08,352.57 458.33,353.42 458.58,354.17 458.83,354.79 459.08,355.26 459.33,355.58 459.58,355.71 459.83,355.43 460.08,354.36 460.33,352.58 460.58,350.18 460.83,347.25 461.09,343.90 461.34,340.22 461.59,336.29 461.84,332.21 462.09,328.08 462.34,323.98 462.59,320.02 462.84,316.29 463.09,312.87 463.34,309.87 463.59,307.38 463.84,305.49 464.09,304.29 464.34,303.88 464.59,304.17 464.84,304.97 465.09,306.24 465.34,307.93 465.59,309.98 465.84,312.35 466.09,314.99 466.34,317.86 466.59,320.89 466.84,324.04 467.09,327.27 467.34,330.52 467.59,333.74 467.84,336.89 468.09,339.91 468.34,342.76 468.59,345.39 468.84,347.74 469.09,349.77 469.34,351.43 469.59,352.66 469.84,353.43 470.09,353.68 470.34,353.33 470.59,352.39 470.84,350.93 471.09,349.03 471.34,346.75 471.59,344.17 471.84,341.35 472.09,338.36 472.34,335.28 472.59,332.17 472.84,329.11 473.09,326.17 473.35,323.41 473.60,320.92 473.85,318.74 474.10,316.97 474.35,315.67 474.60,314.90 474.85,314.74 475.10,315.06 475.35,315.79 475.60,316.87 475.85,318.27 476.10,319.96 476.35,321.88 476.60,324.01 476.85,326.31 477.10,328.73 477.35,331.23 477.60,333.79 477.85,336.35 478.10,338.88 478.35,341.35 478.60,343.70 478.85,345.91 479.10,347.94 479.35,349.73 479.60,351.27 479.85,352.50 480.10,353.40 480.35,353.91 480.60,354.01 480.85,353.81 481.10,353.37 481.35,352.73 481.60,351.91 481.85,350.95 482.10,349.87 482.35,348.69 482.60,347.46 482.85,346.20 483.10,344.93 483.35,343.69 483.60,342.50 483.85,341.40 484.10,340.41 484.35,339.55 484.60,338.87 484.85,338.39 485.10,338.13 485.35,338.12 485.61,338.31 485.86,338.68 486.11,339.20 486.36,339.86 486.61,340.64 486.86,341.52 487.11,342.50 487.36,343.54 487.61,344.64 487.86,345.77 488.11,346.91 488.36,348.06 488.61,349.19 488.86,350.29 489.11,351.33 489.36,352.30 489.61,353.19 489.86,353.97 490.11,354.62 490.36,355.14 490.61,355.50 490.86,355.69 491.11,355.59 491.36,354.75 491.61,353.16 491.86,350.93 492.11,348.15 492.36,344.91 492.61,341.31 492.86,337.44 493.11,333.40 493.36,329.27 493.61,325.16 493.86,321.15 494.11,317.34 494.36,313.82 494.61,310.69 494.86,308.05 495.11,305.97 495.36,304.56 495.61,303.92 495.86,304.03 496.11,304.69 496.36,305.83 496.61,307.40 496.86,309.35 497.11,311.63 497.36,314.20 497.61,317.01 497.86,320.00 498.12,323.12 498.37,326.33 498.62,329.58 498.87,332.81 499.12,335.99 499.37,339.05 499.62,341.96 499.87,344.65 500.12,347.09 500.37,349.22 500.62,350.99 500.87,352.35 501.12,353.26 501.37,353.66 501.62,353.49 501.87,352.72 502.12,351.41 502.37,349.63 502.62,347.45 502.87,344.94 503.12,342.18 503.37,339.24 503.62,336.18 503.87,333.07 504.12,329.99 504.37,327.01 504.62,324.19 504.87,321.61 505.12,319.34 505.37,317.44 505.62,315.99 505.87,315.06 506.12,314.72 506.37,314.93 506.62,315.54 506.87,316.52 507.12,317.83 507.37,319.44 507.62,321.30 507.87,323.38 508.12,325.63 508.37,328.01 508.62,330.50 508.87,333.04 509.12,335.61 509.37,338.15 509.62,340.64 509.87,343.03 510.12,345.29 510.38,347.37 510.63,349.24 510.88,350.85 511.13,352.18 511.38,353.17 511.63,353.80 511.88,354.02 512.13,353.89 512.38,353.52 512.63,352.93 512.88,352.16 513.13,351.24 513.38,350.19 513.63,349.04 513.88,347.82 514.13,346.57 514.38,345.30 514.63,344.04 514.88,342.84 515.13,341.71 515.38,340.68 515.63,339.78 515.88,339.05 516.13,338.51 516.38,338.18 516.63,338.10 516.88,338.24 517.13,338.55 517.38,339.03 517.63,339.65 517.88,340.40 518.13,341.26 518.38,342.21 518.63,343.23 518.88,344.31 519.13,345.44 519.38,346.58 519.63,347.73 519.88,348.87 520.13,349.97 520.38,351.03 520.63,352.03 520.88,352.94 521.13,353.75 521.38,354.45 521.63,355.01 521.88,355.42 522.13,355.65 522.38,355.69 522.64,355.07 522.89,353.69 523.14,351.64 523.39,349.01 523.64,345.89 523.89,342.39 524.14,338.59 524.39,334.59 524.64,330.47 524.89,326.35 525.14,322.30 525.39,318.42 525.64,314.81 525.89,311.56 526.14,308.76 526.39,306.51 526.64,304.90 526.89,304.02 527.14,303.94 527.39,304.45 527.64,305.45 527.89,306.90 528.14,308.75 528.39,310.94 528.64,313.43 528.89,316.17 529.14,319.11 529.39,322.20 529.64,325.39 529.89,328.64 530.14,331.88 530.39,335.08 530.64,338.18 530.89,341.13 531.14,343.90 531.39,346.41 531.64,348.63 531.89,350.51 532.14,352.00 532.39,353.05 532.64,353.60 532.89,353.61 533.14,353.00 533.39,351.84 533.64,350.19 533.89,348.12 534.14,345.70 534.39,343.01 534.64,340.11 534.90,337.07 535.15,333.97 535.40,330.88 535.65,327.86 535.90,324.99 536.15,322.33 536.40,319.96 536.65,317.95 536.90,316.36 537.15,315.28 537.40,314.76 537.65,314.82 537.90,315.32 538.15,316.20 538.40,317.42 538.65,318.95 538.90,320.74 539.15,322.75 539.40,324.96 539.65,327.31 539.90,329.77 540.15,332.30 540.40,334.86 540.65,337.42 540.90,339.93" fill="none" stroke="#1a1aff" stroke-width="1.25" stroke-linejoin="round"/>
</g>
<path d="M356.5 359.1v-3.0M417.97 359.1v-3.0M479.43 359.1v-3.0M540.9 359.1v-3.0M387.23 359.1v-1.8M448.7 359.1v-1.8M510.17 359.1v-1.8M356.5 359.1h3.0M356.5 325.23h3.0M356.5 291.35h3.0M356.5 257.48h3.0M356.5 223.6h3.0M356.5 342.16h1.8M356.5 308.29h1.8M356.5 274.41h1.8M356.5 240.54h1.8" stroke="#555555" stroke-width="1" fill="none"/>
<rect x="356.5" y="223.6" width="184.4" height="135.5" fill="none" stroke="#555555" stroke-width="1.2"/>
<line x1="371.2" y1="281.5" x2="394.7" y2="281.5" stroke="#ff1010" stroke-width="1.25"/>
<line x1="371.2" y1="294.3" x2="394.7" y2="294.3" stroke="#1a1aff" stroke-width="1.25"/>
<text x="397.2" y="285.3" font-size="10.5" text-anchor="start" font-weight="bold" fill="#000">Average : 2.81 [W](SPMSM)</text>
<text x="397.2" y="298.4" font-size="10.5" text-anchor="start" font-weight="bold" fill="#000">Average : 0.68 [W](IPMSM)</text>
<text x="353.2" y="226.6" font-size="9.6" text-anchor="end" font-weight="bold" fill="#000">4</text>
<text x="353.2" y="260.48" font-size="9.6" text-anchor="end" font-weight="bold" fill="#000">3</text>
<text x="353.2" y="294.35" font-size="9.6" text-anchor="end" font-weight="bold" fill="#000">2</text>
<text x="353.2" y="328.23" font-size="9.6" text-anchor="end" font-weight="bold" fill="#000">1</text>
<text x="353.2" y="362.1" font-size="9.6" text-anchor="end" font-weight="bold" fill="#000">0</text>
<text x="356.5" y="370.8" font-size="9.6" text-anchor="middle" font-weight="bold" fill="#000">3</text>
<text x="417.97" y="370.8" font-size="9.6" text-anchor="middle" font-weight="bold" fill="#000">4</text>
<text x="479.43" y="370.8" font-size="9.6" text-anchor="middle" font-weight="bold" fill="#000">5</text>
<text x="540.9" y="370.8" font-size="9.6" text-anchor="middle" font-weight="bold" fill="#000">6</text>
<text x="342.3" y="292.3" font-size="13.7" text-anchor="middle" font-weight="bold" fill="#000" transform="rotate(-90 342.3 292.3)">PM Loss [W]</text>
<text x="448.6" y="383.6" font-size="13.2" text-anchor="middle" font-weight="bold" fill="#000">Time[ms]</text>
<text x="442.9" y="407.6" font-size="12" text-anchor="middle" font-weight="normal" fill="#000">(<tspan font-weight="bold">d</tspan>)</text>
</svg>
</body></html>
